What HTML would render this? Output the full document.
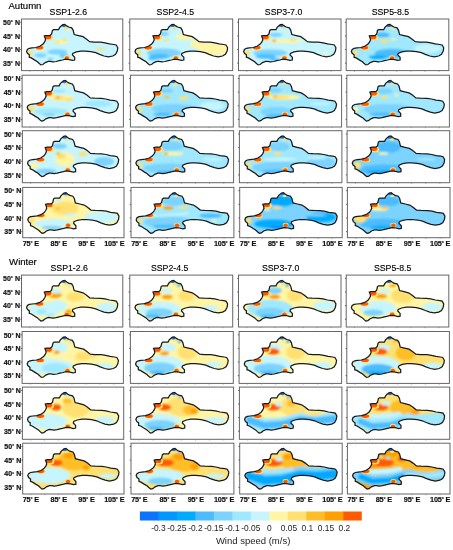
<!DOCTYPE html><html><head><meta charset="utf-8"><style>html,body{margin:0;padding:0;background:#fff;}svg{display:block}</style></head><body>
<svg width="453" height="550" viewBox="0 0 453 550" font-family='"Liberation Sans", Arial, sans-serif'>
<defs>
<clipPath id="cp0"><path d="M22.51,16.38 L24.38,15.99 L28.13,15.99 L29.71,14.53 L30.50,11.14 L31.59,10.37 L36.53,10.37 L37.71,8.14 L38.89,6.98 L40.77,5.52 L42.65,5.14 L44.62,6.69 L46.50,7.75 L49.56,8.53 L50.94,10.76 L52.02,15.02 L56.37,16.09 L60.71,17.15 L63.97,19.28 L67.32,22.00 L71.67,22.29 L78.18,22.48 L82.53,23.06 L86.87,24.13 L91.21,24.71 L93.48,25.19 L95.06,27.91 L94.57,31.10 L92.89,34.30 L90.13,35.85 L85.78,36.63 L81.44,35.85 L77.10,34.30 L73.25,32.66 L68.41,31.59 L62.88,31.10 L58.64,31.10 L54.10,31.88 L50.64,33.33 L50.25,34.79 L52.52,37.11 L52.52,39.73 L50.25,40.12 L47.19,39.34 L43.44,38.95 L40.38,39.73 L37.31,40.41 L34.25,41.18 L31.19,41.57 L28.13,41.18 L26.46,41.09 L23.40,42.25 L21.13,44.09 L19.15,44.48 L17.28,42.93 L15.79,41.47 L12.73,39.63 L9.67,37.69 L7.70,37.02 L7.70,34.69 L5.82,33.24 L5.03,31.40 L5.82,29.46 L7.70,28.39 L10.37,28.00 L14.22,27.62 L18.07,26.45 L21.22,24.32 L22.80,22.19 L23.69,20.25 L23.40,18.60Z"/></clipPath>
<path id="ol0" d="M22.51,16.38 L24.38,15.99 L28.13,15.99 L29.71,14.53 L30.50,11.14 L31.59,10.37 L36.53,10.37 L37.71,8.14 L38.89,6.98 L40.77,5.52 L42.65,5.14 L44.62,6.69 L46.50,7.75 L49.56,8.53 L50.94,10.76 L52.02,15.02 L56.37,16.09 L60.71,17.15 L63.97,19.28 L67.32,22.00 L71.67,22.29 L78.18,22.48 L82.53,23.06 L86.87,24.13 L91.21,24.71 L93.48,25.19 L95.06,27.91 L94.57,31.10 L92.89,34.30 L90.13,35.85 L85.78,36.63 L81.44,35.85 L77.10,34.30 L73.25,32.66 L68.41,31.59 L62.88,31.10 L58.64,31.10 L54.10,31.88 L50.64,33.33 L50.25,34.79 L52.52,37.11 L52.52,39.73 L50.25,40.12 L47.19,39.34 L43.44,38.95 L40.38,39.73 L37.31,40.41 L34.25,41.18 L31.19,41.57 L28.13,41.18 L26.46,41.09 L23.40,42.25 L21.13,44.09 L19.15,44.48 L17.28,42.93 L15.79,41.47 L12.73,39.63 L9.67,37.69 L7.70,37.02 L7.70,34.69 L5.82,33.24 L5.03,31.40 L5.82,29.46 L7.70,28.39 L10.37,28.00 L14.22,27.62 L18.07,26.45 L21.22,24.32 L22.80,22.19 L23.69,20.25 L23.40,18.60Z" fill="none" stroke="#1a1a1a" stroke-width="1.25" vector-effect="non-scaling-stroke"/>
<clipPath id="cp1"><path d="M22.51,16.31 L24.38,15.93 L28.13,15.93 L29.71,14.48 L30.50,11.10 L31.59,10.33 L36.53,10.33 L37.71,8.11 L38.89,6.95 L40.77,5.50 L42.65,5.12 L44.62,6.66 L46.50,7.72 L49.56,8.49 L50.94,10.71 L52.02,14.96 L56.37,16.02 L60.71,17.08 L63.97,19.21 L67.32,21.91 L71.67,22.20 L78.18,22.39 L82.53,22.97 L86.87,24.03 L91.21,24.61 L93.48,25.10 L95.06,27.80 L94.57,30.98 L92.89,34.17 L90.13,35.71 L85.78,36.49 L81.44,35.71 L77.10,34.17 L73.25,32.53 L68.41,31.47 L62.88,30.98 L58.64,30.98 L54.10,31.76 L50.64,33.20 L50.25,34.65 L52.52,36.97 L52.52,39.58 L50.25,39.96 L47.19,39.19 L43.44,38.80 L40.38,39.58 L37.31,40.25 L34.25,41.02 L31.19,41.41 L28.13,41.02 L26.46,40.93 L23.40,42.08 L21.13,43.92 L19.15,44.31 L17.28,42.76 L15.79,41.31 L12.73,39.48 L9.67,37.55 L7.70,36.87 L7.70,34.56 L5.82,33.11 L5.03,31.27 L5.82,29.34 L7.70,28.28 L10.37,27.90 L14.22,27.51 L18.07,26.35 L21.22,24.23 L22.80,22.10 L23.69,20.17 L23.40,18.53Z"/></clipPath>
<path id="ol1" d="M22.51,16.31 L24.38,15.93 L28.13,15.93 L29.71,14.48 L30.50,11.10 L31.59,10.33 L36.53,10.33 L37.71,8.11 L38.89,6.95 L40.77,5.50 L42.65,5.12 L44.62,6.66 L46.50,7.72 L49.56,8.49 L50.94,10.71 L52.02,14.96 L56.37,16.02 L60.71,17.08 L63.97,19.21 L67.32,21.91 L71.67,22.20 L78.18,22.39 L82.53,22.97 L86.87,24.03 L91.21,24.61 L93.48,25.10 L95.06,27.80 L94.57,30.98 L92.89,34.17 L90.13,35.71 L85.78,36.49 L81.44,35.71 L77.10,34.17 L73.25,32.53 L68.41,31.47 L62.88,30.98 L58.64,30.98 L54.10,31.76 L50.64,33.20 L50.25,34.65 L52.52,36.97 L52.52,39.58 L50.25,39.96 L47.19,39.19 L43.44,38.80 L40.38,39.58 L37.31,40.25 L34.25,41.02 L31.19,41.41 L28.13,41.02 L26.46,40.93 L23.40,42.08 L21.13,43.92 L19.15,44.31 L17.28,42.76 L15.79,41.31 L12.73,39.48 L9.67,37.55 L7.70,36.87 L7.70,34.56 L5.82,33.11 L5.03,31.27 L5.82,29.34 L7.70,28.28 L10.37,27.90 L14.22,27.51 L18.07,26.35 L21.22,24.23 L22.80,22.10 L23.69,20.17 L23.40,18.53Z" fill="none" stroke="#1a1a1a" stroke-width="1.25" vector-effect="non-scaling-stroke"/>
<clipPath id="cp2"><path d="M22.51,16.25 L24.38,15.87 L28.13,15.87 L29.71,14.42 L30.50,11.06 L31.59,10.29 L36.53,10.29 L37.71,8.08 L38.89,6.92 L40.77,5.48 L42.65,5.10 L44.62,6.63 L46.50,7.69 L49.56,8.46 L50.94,10.67 L52.02,14.90 L56.37,15.96 L60.71,17.02 L63.97,19.13 L67.32,21.83 L71.67,22.12 L78.18,22.31 L82.53,22.88 L86.87,23.94 L91.21,24.52 L93.48,25.00 L95.06,27.69 L94.57,30.87 L92.89,34.04 L90.13,35.58 L85.78,36.35 L81.44,35.58 L77.10,34.04 L73.25,32.40 L68.41,31.35 L62.88,30.87 L58.64,30.87 L54.10,31.63 L50.64,33.08 L50.25,34.52 L52.52,36.83 L52.52,39.42 L50.25,39.81 L47.19,39.04 L43.44,38.65 L40.38,39.42 L37.31,40.10 L34.25,40.87 L31.19,41.25 L28.13,40.87 L26.46,40.77 L23.40,41.92 L21.13,43.75 L19.15,44.13 L17.28,42.60 L15.79,41.15 L12.73,39.33 L9.67,37.40 L7.70,36.73 L7.70,34.42 L5.82,32.98 L5.03,31.15 L5.82,29.23 L7.70,28.17 L10.37,27.79 L14.22,27.40 L18.07,26.25 L21.22,24.13 L22.80,22.02 L23.69,20.10 L23.40,18.46Z"/></clipPath>
<path id="ol2" d="M22.51,16.25 L24.38,15.87 L28.13,15.87 L29.71,14.42 L30.50,11.06 L31.59,10.29 L36.53,10.29 L37.71,8.08 L38.89,6.92 L40.77,5.48 L42.65,5.10 L44.62,6.63 L46.50,7.69 L49.56,8.46 L50.94,10.67 L52.02,14.90 L56.37,15.96 L60.71,17.02 L63.97,19.13 L67.32,21.83 L71.67,22.12 L78.18,22.31 L82.53,22.88 L86.87,23.94 L91.21,24.52 L93.48,25.00 L95.06,27.69 L94.57,30.87 L92.89,34.04 L90.13,35.58 L85.78,36.35 L81.44,35.58 L77.10,34.04 L73.25,32.40 L68.41,31.35 L62.88,30.87 L58.64,30.87 L54.10,31.63 L50.64,33.08 L50.25,34.52 L52.52,36.83 L52.52,39.42 L50.25,39.81 L47.19,39.04 L43.44,38.65 L40.38,39.42 L37.31,40.10 L34.25,40.87 L31.19,41.25 L28.13,40.87 L26.46,40.77 L23.40,41.92 L21.13,43.75 L19.15,44.13 L17.28,42.60 L15.79,41.15 L12.73,39.33 L9.67,37.40 L7.70,36.73 L7.70,34.42 L5.82,32.98 L5.03,31.15 L5.82,29.23 L7.70,28.17 L10.37,27.79 L14.22,27.40 L18.07,26.25 L21.22,24.13 L22.80,22.02 L23.69,20.10 L23.40,18.46Z" fill="none" stroke="#1a1a1a" stroke-width="1.25" vector-effect="non-scaling-stroke"/>
<clipPath id="cp3"><path d="M22.51,16.80 L24.38,16.40 L28.13,16.40 L29.71,14.91 L30.50,11.43 L31.59,10.64 L36.53,10.64 L37.71,8.35 L38.89,7.16 L40.77,5.67 L42.65,5.27 L44.62,6.86 L46.50,7.95 L49.56,8.75 L50.94,11.03 L52.02,15.41 L56.37,16.50 L60.71,17.59 L63.97,19.78 L67.32,22.56 L71.67,22.86 L78.18,23.06 L82.53,23.66 L86.87,24.75 L91.21,25.35 L93.48,25.84 L95.06,28.63 L94.57,31.91 L92.89,35.19 L90.13,36.78 L85.78,37.57 L81.44,36.78 L77.10,35.19 L73.25,33.50 L68.41,32.41 L62.88,31.91 L58.64,31.91 L54.10,32.70 L50.64,34.19 L50.25,35.69 L52.52,38.07 L52.52,40.76 L50.25,41.15 L47.19,40.36 L43.44,39.96 L40.38,40.76 L37.31,41.45 L34.25,42.25 L31.19,42.64 L28.13,42.25 L26.46,42.15 L23.40,43.34 L21.13,45.23 L19.15,45.63 L17.28,44.04 L15.79,42.54 L12.73,40.66 L9.67,38.67 L7.70,37.97 L7.70,35.59 L5.82,34.10 L5.03,32.21 L5.82,30.22 L7.70,29.13 L10.37,28.73 L14.22,28.33 L18.07,27.14 L21.22,24.95 L22.80,22.76 L23.69,20.78 L23.40,19.09Z"/></clipPath>
<path id="ol3" d="M22.51,16.80 L24.38,16.40 L28.13,16.40 L29.71,14.91 L30.50,11.43 L31.59,10.64 L36.53,10.64 L37.71,8.35 L38.89,7.16 L40.77,5.67 L42.65,5.27 L44.62,6.86 L46.50,7.95 L49.56,8.75 L50.94,11.03 L52.02,15.41 L56.37,16.50 L60.71,17.59 L63.97,19.78 L67.32,22.56 L71.67,22.86 L78.18,23.06 L82.53,23.66 L86.87,24.75 L91.21,25.35 L93.48,25.84 L95.06,28.63 L94.57,31.91 L92.89,35.19 L90.13,36.78 L85.78,37.57 L81.44,36.78 L77.10,35.19 L73.25,33.50 L68.41,32.41 L62.88,31.91 L58.64,31.91 L54.10,32.70 L50.64,34.19 L50.25,35.69 L52.52,38.07 L52.52,40.76 L50.25,41.15 L47.19,40.36 L43.44,39.96 L40.38,40.76 L37.31,41.45 L34.25,42.25 L31.19,42.64 L28.13,42.25 L26.46,42.15 L23.40,43.34 L21.13,45.23 L19.15,45.63 L17.28,44.04 L15.79,42.54 L12.73,40.66 L9.67,38.67 L7.70,37.97 L7.70,35.59 L5.82,34.10 L5.03,32.21 L5.82,30.22 L7.70,29.13 L10.37,28.73 L14.22,28.33 L18.07,27.14 L21.22,24.95 L22.80,22.76 L23.69,20.78 L23.40,19.09Z" fill="none" stroke="#1a1a1a" stroke-width="1.25" vector-effect="non-scaling-stroke"/>
<clipPath id="cp4"><path d="M22.51,16.28 L24.38,15.90 L28.13,15.90 L29.71,14.45 L30.50,11.08 L31.59,10.31 L36.53,10.31 L37.71,8.09 L38.89,6.94 L40.77,5.49 L42.65,5.11 L44.62,6.65 L46.50,7.71 L49.56,8.48 L50.94,10.69 L52.02,14.93 L56.37,15.99 L60.71,17.05 L63.97,19.17 L67.32,21.87 L71.67,22.16 L78.18,22.35 L82.53,22.93 L86.87,23.99 L91.21,24.57 L93.48,25.05 L95.06,27.75 L94.57,30.92 L92.89,34.10 L90.13,35.65 L85.78,36.42 L81.44,35.65 L77.10,34.10 L73.25,32.47 L68.41,31.41 L62.88,30.92 L58.64,30.92 L54.10,31.70 L50.64,33.14 L50.25,34.59 L52.52,36.90 L52.52,39.50 L50.25,39.88 L47.19,39.11 L43.44,38.73 L40.38,39.50 L37.31,40.17 L34.25,40.94 L31.19,41.33 L28.13,40.94 L26.46,40.85 L23.40,42.00 L21.13,43.83 L19.15,44.22 L17.28,42.68 L15.79,41.23 L12.73,39.40 L9.67,37.48 L7.70,36.80 L7.70,34.49 L5.82,33.04 L5.03,31.21 L5.82,29.29 L7.70,28.23 L10.37,27.84 L14.22,27.46 L18.07,26.30 L21.22,24.18 L22.80,22.06 L23.69,20.13 L23.40,18.50Z"/></clipPath>
<path id="ol4" d="M22.51,16.28 L24.38,15.90 L28.13,15.90 L29.71,14.45 L30.50,11.08 L31.59,10.31 L36.53,10.31 L37.71,8.09 L38.89,6.94 L40.77,5.49 L42.65,5.11 L44.62,6.65 L46.50,7.71 L49.56,8.48 L50.94,10.69 L52.02,14.93 L56.37,15.99 L60.71,17.05 L63.97,19.17 L67.32,21.87 L71.67,22.16 L78.18,22.35 L82.53,22.93 L86.87,23.99 L91.21,24.57 L93.48,25.05 L95.06,27.75 L94.57,30.92 L92.89,34.10 L90.13,35.65 L85.78,36.42 L81.44,35.65 L77.10,34.10 L73.25,32.47 L68.41,31.41 L62.88,30.92 L58.64,30.92 L54.10,31.70 L50.64,33.14 L50.25,34.59 L52.52,36.90 L52.52,39.50 L50.25,39.88 L47.19,39.11 L43.44,38.73 L40.38,39.50 L37.31,40.17 L34.25,40.94 L31.19,41.33 L28.13,40.94 L26.46,40.85 L23.40,42.00 L21.13,43.83 L19.15,44.22 L17.28,42.68 L15.79,41.23 L12.73,39.40 L9.67,37.48 L7.70,36.80 L7.70,34.49 L5.82,33.04 L5.03,31.21 L5.82,29.29 L7.70,28.23 L10.37,27.84 L14.22,27.46 L18.07,26.30 L21.22,24.18 L22.80,22.06 L23.69,20.13 L23.40,18.50Z" fill="none" stroke="#1a1a1a" stroke-width="1.25" vector-effect="non-scaling-stroke"/>
<clipPath id="cp5"><path d="M22.51,16.28 L24.38,15.90 L28.13,15.90 L29.71,14.45 L30.50,11.08 L31.59,10.31 L36.53,10.31 L37.71,8.09 L38.89,6.94 L40.77,5.49 L42.65,5.11 L44.62,6.65 L46.50,7.71 L49.56,8.48 L50.94,10.69 L52.02,14.93 L56.37,15.99 L60.71,17.05 L63.97,19.17 L67.32,21.87 L71.67,22.16 L78.18,22.35 L82.53,22.93 L86.87,23.99 L91.21,24.57 L93.48,25.05 L95.06,27.75 L94.57,30.92 L92.89,34.10 L90.13,35.65 L85.78,36.42 L81.44,35.65 L77.10,34.10 L73.25,32.47 L68.41,31.41 L62.88,30.92 L58.64,30.92 L54.10,31.70 L50.64,33.14 L50.25,34.59 L52.52,36.90 L52.52,39.50 L50.25,39.88 L47.19,39.11 L43.44,38.73 L40.38,39.50 L37.31,40.17 L34.25,40.94 L31.19,41.33 L28.13,40.94 L26.46,40.85 L23.40,42.00 L21.13,43.83 L19.15,44.22 L17.28,42.68 L15.79,41.23 L12.73,39.40 L9.67,37.48 L7.70,36.80 L7.70,34.49 L5.82,33.04 L5.03,31.21 L5.82,29.29 L7.70,28.23 L10.37,27.84 L14.22,27.46 L18.07,26.30 L21.22,24.18 L22.80,22.06 L23.69,20.13 L23.40,18.50Z"/></clipPath>
<path id="ol5" d="M22.51,16.28 L24.38,15.90 L28.13,15.90 L29.71,14.45 L30.50,11.08 L31.59,10.31 L36.53,10.31 L37.71,8.09 L38.89,6.94 L40.77,5.49 L42.65,5.11 L44.62,6.65 L46.50,7.71 L49.56,8.48 L50.94,10.69 L52.02,14.93 L56.37,15.99 L60.71,17.05 L63.97,19.17 L67.32,21.87 L71.67,22.16 L78.18,22.35 L82.53,22.93 L86.87,23.99 L91.21,24.57 L93.48,25.05 L95.06,27.75 L94.57,30.92 L92.89,34.10 L90.13,35.65 L85.78,36.42 L81.44,35.65 L77.10,34.10 L73.25,32.47 L68.41,31.41 L62.88,30.92 L58.64,30.92 L54.10,31.70 L50.64,33.14 L50.25,34.59 L52.52,36.90 L52.52,39.50 L50.25,39.88 L47.19,39.11 L43.44,38.73 L40.38,39.50 L37.31,40.17 L34.25,40.94 L31.19,41.33 L28.13,40.94 L26.46,40.85 L23.40,42.00 L21.13,43.83 L19.15,44.22 L17.28,42.68 L15.79,41.23 L12.73,39.40 L9.67,37.48 L7.70,36.80 L7.70,34.49 L5.82,33.04 L5.03,31.21 L5.82,29.29 L7.70,28.23 L10.37,27.84 L14.22,27.46 L18.07,26.30 L21.22,24.18 L22.80,22.06 L23.69,20.13 L23.40,18.50Z" fill="none" stroke="#1a1a1a" stroke-width="1.25" vector-effect="non-scaling-stroke"/>
<clipPath id="cp6"><path d="M22.51,16.19 L24.38,15.80 L28.13,15.80 L29.71,14.37 L30.50,11.02 L31.59,10.25 L36.53,10.25 L37.71,8.05 L38.89,6.90 L40.77,5.46 L42.65,5.08 L44.62,6.61 L46.50,7.66 L49.56,8.43 L50.94,10.63 L52.02,14.85 L56.37,15.90 L60.71,16.95 L63.97,19.06 L67.32,21.74 L71.67,22.03 L78.18,22.22 L82.53,22.80 L86.87,23.85 L91.21,24.43 L93.48,24.90 L95.06,27.59 L94.57,30.75 L92.89,33.91 L90.13,35.44 L85.78,36.21 L81.44,35.44 L77.10,33.91 L73.25,32.28 L68.41,31.23 L62.88,30.75 L58.64,30.75 L54.10,31.51 L50.64,32.95 L50.25,34.39 L52.52,36.69 L52.52,39.27 L50.25,39.66 L47.19,38.89 L43.44,38.51 L40.38,39.27 L37.31,39.94 L34.25,40.71 L31.19,41.09 L28.13,40.71 L26.46,40.61 L23.40,41.76 L21.13,43.58 L19.15,43.97 L17.28,42.43 L15.79,41.00 L12.73,39.18 L9.67,37.26 L7.70,36.59 L7.70,34.29 L5.82,32.85 L5.03,31.03 L5.82,29.12 L7.70,28.07 L10.37,27.68 L14.22,27.30 L18.07,26.15 L21.22,24.04 L22.80,21.93 L23.69,20.02 L23.40,18.39Z"/></clipPath>
<path id="ol6" d="M22.51,16.19 L24.38,15.80 L28.13,15.80 L29.71,14.37 L30.50,11.02 L31.59,10.25 L36.53,10.25 L37.71,8.05 L38.89,6.90 L40.77,5.46 L42.65,5.08 L44.62,6.61 L46.50,7.66 L49.56,8.43 L50.94,10.63 L52.02,14.85 L56.37,15.90 L60.71,16.95 L63.97,19.06 L67.32,21.74 L71.67,22.03 L78.18,22.22 L82.53,22.80 L86.87,23.85 L91.21,24.43 L93.48,24.90 L95.06,27.59 L94.57,30.75 L92.89,33.91 L90.13,35.44 L85.78,36.21 L81.44,35.44 L77.10,33.91 L73.25,32.28 L68.41,31.23 L62.88,30.75 L58.64,30.75 L54.10,31.51 L50.64,32.95 L50.25,34.39 L52.52,36.69 L52.52,39.27 L50.25,39.66 L47.19,38.89 L43.44,38.51 L40.38,39.27 L37.31,39.94 L34.25,40.71 L31.19,41.09 L28.13,40.71 L26.46,40.61 L23.40,41.76 L21.13,43.58 L19.15,43.97 L17.28,42.43 L15.79,41.00 L12.73,39.18 L9.67,37.26 L7.70,36.59 L7.70,34.29 L5.82,32.85 L5.03,31.03 L5.82,29.12 L7.70,28.07 L10.37,27.68 L14.22,27.30 L18.07,26.15 L21.22,24.04 L22.80,21.93 L23.69,20.02 L23.40,18.39Z" fill="none" stroke="#1a1a1a" stroke-width="1.25" vector-effect="non-scaling-stroke"/>
<clipPath id="cp7"><path d="M22.51,16.63 L24.38,16.24 L28.13,16.24 L29.71,14.76 L30.50,11.32 L31.59,10.53 L36.53,10.53 L37.71,8.27 L38.89,7.09 L40.77,5.61 L42.65,5.22 L44.62,6.79 L46.50,7.87 L49.56,8.66 L50.94,10.93 L52.02,15.26 L56.37,16.34 L60.71,17.42 L63.97,19.59 L67.32,22.34 L71.67,22.64 L78.18,22.83 L82.53,23.43 L86.87,24.51 L91.21,25.10 L93.48,25.59 L95.06,28.35 L94.57,31.59 L92.89,34.84 L90.13,36.42 L85.78,37.20 L81.44,36.42 L77.10,34.84 L73.25,33.17 L68.41,32.09 L62.88,31.59 L58.64,31.59 L54.10,32.38 L50.64,33.86 L50.25,35.33 L52.52,37.70 L52.52,40.35 L50.25,40.75 L47.19,39.96 L43.44,39.57 L40.38,40.35 L37.31,41.04 L34.25,41.83 L31.19,42.22 L28.13,41.83 L26.46,41.73 L23.40,42.91 L21.13,44.78 L19.15,45.18 L17.28,43.60 L15.79,42.13 L12.73,40.26 L9.67,38.29 L7.70,37.60 L7.70,35.24 L5.82,33.76 L5.03,31.89 L5.82,29.92 L7.70,28.84 L10.37,28.44 L14.22,28.05 L18.07,26.87 L21.22,24.70 L22.80,22.54 L23.69,20.57 L23.40,18.90Z"/></clipPath>
<path id="ol7" d="M22.51,16.63 L24.38,16.24 L28.13,16.24 L29.71,14.76 L30.50,11.32 L31.59,10.53 L36.53,10.53 L37.71,8.27 L38.89,7.09 L40.77,5.61 L42.65,5.22 L44.62,6.79 L46.50,7.87 L49.56,8.66 L50.94,10.93 L52.02,15.26 L56.37,16.34 L60.71,17.42 L63.97,19.59 L67.32,22.34 L71.67,22.64 L78.18,22.83 L82.53,23.43 L86.87,24.51 L91.21,25.10 L93.48,25.59 L95.06,28.35 L94.57,31.59 L92.89,34.84 L90.13,36.42 L85.78,37.20 L81.44,36.42 L77.10,34.84 L73.25,33.17 L68.41,32.09 L62.88,31.59 L58.64,31.59 L54.10,32.38 L50.64,33.86 L50.25,35.33 L52.52,37.70 L52.52,40.35 L50.25,40.75 L47.19,39.96 L43.44,39.57 L40.38,40.35 L37.31,41.04 L34.25,41.83 L31.19,42.22 L28.13,41.83 L26.46,41.73 L23.40,42.91 L21.13,44.78 L19.15,45.18 L17.28,43.60 L15.79,42.13 L12.73,40.26 L9.67,38.29 L7.70,37.60 L7.70,35.24 L5.82,33.76 L5.03,31.89 L5.82,29.92 L7.70,28.84 L10.37,28.44 L14.22,28.05 L18.07,26.87 L21.22,24.70 L22.80,22.54 L23.69,20.57 L23.40,18.90Z" fill="none" stroke="#1a1a1a" stroke-width="1.25" vector-effect="non-scaling-stroke"/>
<filter id="bl" x="-50%" y="-50%" width="200%" height="200%"><feGaussianBlur stdDeviation="0.8"/></filter><filter id="bl2" x="-50%" y="-50%" width="200%" height="200%"><feGaussianBlur stdDeviation="0.6"/></filter>
</defs>
<rect width="453" height="550" fill="#fff"/>
<text x="8.4" y="8.7" font-size="9.6" stroke="#000" stroke-width="0.15">Autumn</text>
<text x="9.1" y="265" font-size="9.6" stroke="#000" stroke-width="0.15">Winter</text>
<text x="49.6" y="14.7" font-size="8.75" stroke="#000" stroke-width="0.12">SSP1-2.6</text>
<text x="156.6" y="14.7" font-size="8.75" stroke="#000" stroke-width="0.12">SSP2-4.5</text>
<text x="264.8" y="14.7" font-size="8.75" stroke="#000" stroke-width="0.12">SSP3-7.0</text>
<text x="371.7" y="14.7" font-size="8.75" stroke="#000" stroke-width="0.12">SSP5-8.5</text>
<text x="50.5" y="270.8" font-size="8.75" stroke="#000" stroke-width="0.12">SSP1-2.6</text>
<text x="150.9" y="270.8" font-size="8.75" stroke="#000" stroke-width="0.12">SSP2-4.5</text>
<text x="261.9" y="270.8" font-size="8.75" stroke="#000" stroke-width="0.12">SSP3-7.0</text>
<text x="373.9" y="270.8" font-size="8.75" stroke="#000" stroke-width="0.12">SSP5-8.5</text>
<g transform="translate(21.50,19.00) scale(1.0130,1.0320)"><g clip-path="url(#cp0)"><rect x="-2" y="-2" width="104" height="54" fill="#c6f5ff"/><g filter="url(#bl)"><ellipse cx="38.6" cy="22.0" rx="7.1" ry="2.2" fill="#fff5a5"/><ellipse cx="35.3" cy="22.4" rx="2.6" ry="1.3" fill="#ffe070"/><ellipse cx="42.4" cy="20.2" rx="2.6" ry="1.3" fill="#ffe070"/><ellipse cx="45.7" cy="10.3" rx="1.8" ry="1.3" fill="#fff5a5"/><ellipse cx="77.7" cy="29.0" rx="4.9" ry="1.1" fill="#ffe070"/><ellipse cx="8.8" cy="33.0" rx="2.2" ry="3.1" fill="#ffe070"/><ellipse cx="35.3" cy="31.9" rx="9.9" ry="2.6" fill="#7cd3ff"/><ellipse cx="18.8" cy="35.2" rx="6.2" ry="2.0" fill="#7cd3ff"/><ellipse cx="41.9" cy="35.6" rx="4.4" ry="2.2" fill="#7cd3ff"/><ellipse cx="28.7" cy="39.1" rx="2.6" ry="1.1" fill="#4cbcff"/><ellipse cx="40.2" cy="35.2" rx="1.3" ry="0.9" fill="#4cbcff"/><ellipse cx="44.2" cy="8.4" rx="1.1" ry="0.7" fill="#ffa000"/></g><g filter="url(#bl2)"><ellipse cx="26.9" cy="18.0" rx="4.4" ry="2.9" fill="#ffe070"/><ellipse cx="18.1" cy="28.1" rx="4.4" ry="2.2" fill="#ffe070"/><ellipse cx="44.8" cy="37.4" rx="2.9" ry="2.2" fill="#ffe070"/><ellipse cx="26.0" cy="17.4" rx="3.5" ry="2.2" fill="#ff5a00"/><ellipse cx="17.7" cy="27.7" rx="3.8" ry="1.8" fill="#ff5a00"/><ellipse cx="44.8" cy="37.8" rx="2.2" ry="1.8" fill="#ff5a00"/><ellipse cx="43.7" cy="8.4" rx="2.2" ry="1.3" fill="#ffe070"/><ellipse cx="41.7" cy="6.2" rx="2.2" ry="1.5" fill="#0a73ff"/></g></g><use href="#ol0"/></g><rect x="21.50" y="19.00" width="101.30" height="51.60" fill="none" stroke="#666" stroke-width="1"/>
<g transform="translate(129.80,19.00) scale(1.0290,1.0320)"><g clip-path="url(#cp0)"><rect x="-2" y="-2" width="104" height="54" fill="#c6f5ff"/><g filter="url(#bl)"><ellipse cx="54.1" cy="17.1" rx="9.9" ry="3.1" fill="#fff5a5"/><ellipse cx="81.7" cy="29.0" rx="15.5" ry="6.6" fill="#fff5a5"/><ellipse cx="66.2" cy="24.2" rx="7.7" ry="4.0" fill="#fff5a5"/><ellipse cx="33.1" cy="33.0" rx="16.6" ry="4.4" fill="#7cd3ff"/><ellipse cx="28.7" cy="36.3" rx="9.9" ry="2.6" fill="#4cbcff"/><ellipse cx="22.1" cy="38.5" rx="4.4" ry="1.3" fill="#4cbcff"/><ellipse cx="35.3" cy="20.4" rx="2.6" ry="1.5" fill="#ffe070"/><ellipse cx="8.8" cy="33.0" rx="2.2" ry="3.1" fill="#ffe070"/><ellipse cx="33.1" cy="14.3" rx="4.9" ry="2.0" fill="#7cd3ff"/><ellipse cx="44.2" cy="8.4" rx="1.1" ry="0.7" fill="#ffa000"/></g><g filter="url(#bl2)"><ellipse cx="26.9" cy="18.0" rx="4.4" ry="2.9" fill="#ffe070"/><ellipse cx="18.1" cy="28.1" rx="4.4" ry="2.2" fill="#ffe070"/><ellipse cx="44.8" cy="37.4" rx="2.9" ry="2.2" fill="#ffe070"/><ellipse cx="26.0" cy="17.4" rx="3.5" ry="2.2" fill="#ff5a00"/><ellipse cx="17.7" cy="27.7" rx="3.8" ry="1.8" fill="#ff5a00"/><ellipse cx="44.8" cy="37.8" rx="2.2" ry="1.8" fill="#ff5a00"/><ellipse cx="43.7" cy="8.4" rx="2.2" ry="1.3" fill="#ffe070"/><ellipse cx="41.7" cy="6.2" rx="2.2" ry="1.5" fill="#0a73ff"/></g></g><use href="#ol0"/></g><rect x="129.80" y="19.00" width="102.90" height="51.60" fill="none" stroke="#666" stroke-width="1"/>
<g transform="translate(238.50,19.00) scale(1.0250,1.0320)"><g clip-path="url(#cp0)"><rect x="-2" y="-2" width="104" height="54" fill="#c6f5ff"/><g filter="url(#bl)"><ellipse cx="46.4" cy="21.3" rx="16.6" ry="2.0" fill="#fff5a5"/><ellipse cx="34.9" cy="21.1" rx="2.0" ry="1.3" fill="#ffa000"/><ellipse cx="53.0" cy="20.2" rx="4.0" ry="1.1" fill="#ffe070"/><ellipse cx="30.9" cy="33.0" rx="16.6" ry="3.5" fill="#7cd3ff"/><ellipse cx="26.5" cy="36.3" rx="9.9" ry="2.2" fill="#4cbcff"/><ellipse cx="35.3" cy="39.1" rx="5.5" ry="1.3" fill="#4cbcff"/><ellipse cx="36.4" cy="15.4" rx="6.6" ry="2.0" fill="#7cd3ff"/><ellipse cx="8.8" cy="33.0" rx="2.2" ry="3.1" fill="#ffe070"/><ellipse cx="83.9" cy="33.0" rx="2.6" ry="1.1" fill="#fff5a5"/></g><g filter="url(#bl2)"><ellipse cx="26.9" cy="18.0" rx="4.4" ry="2.9" fill="#ffe070"/><ellipse cx="18.1" cy="28.1" rx="4.4" ry="2.2" fill="#ffe070"/><ellipse cx="44.8" cy="37.4" rx="2.9" ry="2.2" fill="#ffe070"/><ellipse cx="26.0" cy="17.4" rx="3.5" ry="2.2" fill="#ff5a00"/><ellipse cx="17.7" cy="27.7" rx="3.8" ry="1.8" fill="#ff5a00"/><ellipse cx="44.8" cy="37.8" rx="2.2" ry="1.8" fill="#ff5a00"/><ellipse cx="43.7" cy="8.4" rx="2.2" ry="1.3" fill="#ffe070"/><ellipse cx="41.7" cy="6.2" rx="2.2" ry="1.5" fill="#0a73ff"/></g></g><use href="#ol0"/></g><rect x="238.50" y="19.00" width="102.50" height="51.60" fill="none" stroke="#666" stroke-width="1"/>
<g transform="translate(346.20,19.00) scale(1.0260,1.0320)"><g clip-path="url(#cp0)"><rect x="-2" y="-2" width="104" height="54" fill="#a0e8ff"/><g filter="url(#bl)"><ellipse cx="44.2" cy="33.4" rx="16.6" ry="4.4" fill="#4cbcff"/><ellipse cx="30.9" cy="36.9" rx="8.8" ry="1.8" fill="#00abff"/><ellipse cx="35.3" cy="15.4" rx="7.1" ry="2.4" fill="#4cbcff"/><ellipse cx="37.1" cy="21.1" rx="4.4" ry="1.8" fill="#ffe070"/><ellipse cx="46.4" cy="19.8" rx="2.6" ry="1.1" fill="#fff5a5"/><ellipse cx="79.5" cy="28.6" rx="13.2" ry="4.4" fill="#c6f5ff"/><ellipse cx="8.8" cy="33.0" rx="2.2" ry="3.1" fill="#ffe070"/><ellipse cx="45.3" cy="9.2" rx="1.8" ry="1.1" fill="#fff5a5"/></g><g filter="url(#bl2)"><ellipse cx="26.9" cy="18.0" rx="4.4" ry="2.9" fill="#ffe070"/><ellipse cx="18.1" cy="28.1" rx="4.4" ry="2.2" fill="#ffe070"/><ellipse cx="44.8" cy="37.4" rx="2.9" ry="2.2" fill="#ffe070"/><ellipse cx="26.0" cy="17.4" rx="3.5" ry="2.2" fill="#ff5a00"/><ellipse cx="17.7" cy="27.7" rx="3.8" ry="1.8" fill="#ff5a00"/><ellipse cx="44.8" cy="37.8" rx="2.2" ry="1.8" fill="#ff5a00"/><ellipse cx="43.7" cy="8.4" rx="2.2" ry="1.3" fill="#ffe070"/><ellipse cx="41.7" cy="6.2" rx="2.2" ry="1.5" fill="#0a73ff"/></g></g><use href="#ol0"/></g><rect x="346.20" y="19.00" width="102.60" height="51.60" fill="none" stroke="#666" stroke-width="1"/>
<text x="20.00" y="25.00" font-size="7.0" font-weight="bold" text-anchor="end" fill="#111" stroke="#111" stroke-width="0.18">50<tspan font-size="5.4" dy="-0.9">°</tspan><tspan dy="0.9"> N</tspan></text>
<line x1="20.20" y1="22.30" x2="21.50" y2="22.30" stroke="#444" stroke-width="0.8"/>
<line x1="128.50" y1="22.30" x2="129.80" y2="22.30" stroke="#444" stroke-width="0.8"/>
<line x1="237.20" y1="22.30" x2="238.50" y2="22.30" stroke="#444" stroke-width="0.8"/>
<line x1="344.90" y1="22.30" x2="346.20" y2="22.30" stroke="#444" stroke-width="0.8"/>
<text x="20.00" y="38.62" font-size="7.0" font-weight="bold" text-anchor="end" fill="#111" stroke="#111" stroke-width="0.18">45<tspan font-size="5.4" dy="-0.9">°</tspan><tspan dy="0.9"> N</tspan></text>
<line x1="20.20" y1="35.92" x2="21.50" y2="35.92" stroke="#444" stroke-width="0.8"/>
<line x1="128.50" y1="35.92" x2="129.80" y2="35.92" stroke="#444" stroke-width="0.8"/>
<line x1="237.20" y1="35.92" x2="238.50" y2="35.92" stroke="#444" stroke-width="0.8"/>
<line x1="344.90" y1="35.92" x2="346.20" y2="35.92" stroke="#444" stroke-width="0.8"/>
<text x="20.00" y="52.25" font-size="7.0" font-weight="bold" text-anchor="end" fill="#111" stroke="#111" stroke-width="0.18">40<tspan font-size="5.4" dy="-0.9">°</tspan><tspan dy="0.9"> N</tspan></text>
<line x1="20.20" y1="49.55" x2="21.50" y2="49.55" stroke="#444" stroke-width="0.8"/>
<line x1="128.50" y1="49.55" x2="129.80" y2="49.55" stroke="#444" stroke-width="0.8"/>
<line x1="237.20" y1="49.55" x2="238.50" y2="49.55" stroke="#444" stroke-width="0.8"/>
<line x1="344.90" y1="49.55" x2="346.20" y2="49.55" stroke="#444" stroke-width="0.8"/>
<text x="20.00" y="65.88" font-size="7.0" font-weight="bold" text-anchor="end" fill="#111" stroke="#111" stroke-width="0.18">35<tspan font-size="5.4" dy="-0.9">°</tspan><tspan dy="0.9"> N</tspan></text>
<line x1="20.20" y1="63.17" x2="21.50" y2="63.17" stroke="#444" stroke-width="0.8"/>
<line x1="128.50" y1="63.17" x2="129.80" y2="63.17" stroke="#444" stroke-width="0.8"/>
<line x1="237.20" y1="63.17" x2="238.50" y2="63.17" stroke="#444" stroke-width="0.8"/>
<line x1="344.90" y1="63.17" x2="346.20" y2="63.17" stroke="#444" stroke-width="0.8"/>
<line x1="29.70" y1="70.60" x2="29.70" y2="71.80" stroke="#777" stroke-width="0.6"/>
<line x1="43.59" y1="70.60" x2="43.59" y2="71.80" stroke="#777" stroke-width="0.6"/>
<line x1="57.49" y1="70.60" x2="57.49" y2="71.80" stroke="#777" stroke-width="0.6"/>
<line x1="71.39" y1="70.60" x2="71.39" y2="71.80" stroke="#777" stroke-width="0.6"/>
<line x1="85.28" y1="70.60" x2="85.28" y2="71.80" stroke="#777" stroke-width="0.6"/>
<line x1="99.18" y1="70.60" x2="99.18" y2="71.80" stroke="#777" stroke-width="0.6"/>
<line x1="113.07" y1="70.60" x2="113.07" y2="71.80" stroke="#777" stroke-width="0.6"/>
<line x1="138.13" y1="70.60" x2="138.13" y2="71.80" stroke="#777" stroke-width="0.6"/>
<line x1="152.24" y1="70.60" x2="152.24" y2="71.80" stroke="#777" stroke-width="0.6"/>
<line x1="166.36" y1="70.60" x2="166.36" y2="71.80" stroke="#777" stroke-width="0.6"/>
<line x1="180.47" y1="70.60" x2="180.47" y2="71.80" stroke="#777" stroke-width="0.6"/>
<line x1="194.59" y1="70.60" x2="194.59" y2="71.80" stroke="#777" stroke-width="0.6"/>
<line x1="208.70" y1="70.60" x2="208.70" y2="71.80" stroke="#777" stroke-width="0.6"/>
<line x1="222.82" y1="70.60" x2="222.82" y2="71.80" stroke="#777" stroke-width="0.6"/>
<line x1="246.80" y1="70.60" x2="246.80" y2="71.80" stroke="#777" stroke-width="0.6"/>
<line x1="260.86" y1="70.60" x2="260.86" y2="71.80" stroke="#777" stroke-width="0.6"/>
<line x1="274.92" y1="70.60" x2="274.92" y2="71.80" stroke="#777" stroke-width="0.6"/>
<line x1="288.98" y1="70.60" x2="288.98" y2="71.80" stroke="#777" stroke-width="0.6"/>
<line x1="303.04" y1="70.60" x2="303.04" y2="71.80" stroke="#777" stroke-width="0.6"/>
<line x1="317.10" y1="70.60" x2="317.10" y2="71.80" stroke="#777" stroke-width="0.6"/>
<line x1="331.16" y1="70.60" x2="331.16" y2="71.80" stroke="#777" stroke-width="0.6"/>
<line x1="354.50" y1="70.60" x2="354.50" y2="71.80" stroke="#777" stroke-width="0.6"/>
<line x1="368.58" y1="70.60" x2="368.58" y2="71.80" stroke="#777" stroke-width="0.6"/>
<line x1="382.65" y1="70.60" x2="382.65" y2="71.80" stroke="#777" stroke-width="0.6"/>
<line x1="396.73" y1="70.60" x2="396.73" y2="71.80" stroke="#777" stroke-width="0.6"/>
<line x1="410.80" y1="70.60" x2="410.80" y2="71.80" stroke="#777" stroke-width="0.6"/>
<line x1="424.87" y1="70.60" x2="424.87" y2="71.80" stroke="#777" stroke-width="0.6"/>
<line x1="438.95" y1="70.60" x2="438.95" y2="71.80" stroke="#777" stroke-width="0.6"/>
<g transform="translate(22.10,75.20) scale(1.0130,1.0360)"><g clip-path="url(#cp1)"><rect x="-2" y="-2" width="104" height="54" fill="#c6f5ff"/><g filter="url(#bl)"><ellipse cx="38.6" cy="22.0" rx="12.1" ry="2.9" fill="#fff5a5"/><ellipse cx="36.4" cy="22.0" rx="6.2" ry="2.0" fill="#ffe070"/><ellipse cx="35.3" cy="21.5" rx="2.0" ry="1.3" fill="#ffa000"/><ellipse cx="46.4" cy="23.3" rx="4.0" ry="1.8" fill="#ffe070"/><ellipse cx="36.4" cy="15.4" rx="6.6" ry="2.0" fill="#a0e8ff"/><ellipse cx="28.7" cy="35.2" rx="16.6" ry="3.5" fill="#a0e8ff"/><ellipse cx="26.5" cy="38.2" rx="6.6" ry="1.5" fill="#7cd3ff"/><ellipse cx="75.1" cy="27.5" rx="13.2" ry="3.3" fill="#a0e8ff"/><ellipse cx="8.8" cy="32.3" rx="3.1" ry="3.3" fill="#ffe070"/><ellipse cx="45.3" cy="9.2" rx="2.2" ry="1.1" fill="#fff5a5"/></g><g filter="url(#bl2)"><ellipse cx="26.9" cy="18.0" rx="4.4" ry="2.9" fill="#ffe070"/><ellipse cx="18.1" cy="28.1" rx="4.4" ry="2.2" fill="#ffe070"/><ellipse cx="44.8" cy="37.4" rx="2.9" ry="2.2" fill="#ffe070"/><ellipse cx="26.0" cy="17.4" rx="3.5" ry="2.2" fill="#ff5a00"/><ellipse cx="17.7" cy="27.7" rx="3.8" ry="1.8" fill="#ff5a00"/><ellipse cx="44.8" cy="37.8" rx="2.2" ry="1.8" fill="#ff5a00"/><ellipse cx="43.7" cy="8.4" rx="2.2" ry="1.3" fill="#ffe070"/><ellipse cx="41.7" cy="6.2" rx="2.2" ry="1.5" fill="#0a73ff"/></g></g><use href="#ol1"/></g><rect x="22.10" y="75.20" width="101.30" height="51.80" fill="none" stroke="#666" stroke-width="1"/>
<g transform="translate(130.40,75.20) scale(1.0290,1.0360)"><g clip-path="url(#cp1)"><rect x="-2" y="-2" width="104" height="54" fill="#a0e8ff"/><g filter="url(#bl)"><ellipse cx="35.3" cy="14.9" rx="6.2" ry="2.4" fill="#7cd3ff"/><ellipse cx="41.9" cy="32.5" rx="21.0" ry="4.8" fill="#7cd3ff"/><ellipse cx="30.9" cy="37.8" rx="8.8" ry="1.8" fill="#4cbcff"/><ellipse cx="35.3" cy="21.1" rx="2.4" ry="1.5" fill="#ffbe28"/><ellipse cx="51.9" cy="22.0" rx="4.9" ry="1.8" fill="#ffe070"/><ellipse cx="79.5" cy="29.7" rx="12.1" ry="4.0" fill="#c6f5ff"/><ellipse cx="8.8" cy="33.0" rx="2.2" ry="3.1" fill="#ffe070"/><ellipse cx="43.0" cy="9.2" rx="1.8" ry="1.1" fill="#fff5a5"/></g><g filter="url(#bl2)"><ellipse cx="26.9" cy="18.0" rx="4.4" ry="2.9" fill="#ffe070"/><ellipse cx="18.1" cy="28.1" rx="4.4" ry="2.2" fill="#ffe070"/><ellipse cx="44.8" cy="37.4" rx="2.9" ry="2.2" fill="#ffe070"/><ellipse cx="26.0" cy="17.4" rx="3.5" ry="2.2" fill="#ff5a00"/><ellipse cx="17.7" cy="27.7" rx="3.8" ry="1.8" fill="#ff5a00"/><ellipse cx="44.8" cy="37.8" rx="2.2" ry="1.8" fill="#ff5a00"/><ellipse cx="43.7" cy="8.4" rx="2.2" ry="1.3" fill="#ffe070"/><ellipse cx="41.7" cy="6.2" rx="2.2" ry="1.5" fill="#0a73ff"/></g></g><use href="#ol1"/></g><rect x="130.40" y="75.20" width="102.90" height="51.80" fill="none" stroke="#666" stroke-width="1"/>
<g transform="translate(239.10,75.20) scale(1.0250,1.0360)"><g clip-path="url(#cp1)"><rect x="-2" y="-2" width="104" height="54" fill="#a0e8ff"/><g filter="url(#bl)"><ellipse cx="44.2" cy="21.3" rx="15.9" ry="2.6" fill="#fff5a5"/><ellipse cx="40.8" cy="21.3" rx="8.8" ry="1.8" fill="#ffe070"/><ellipse cx="35.3" cy="20.9" rx="2.0" ry="1.5" fill="#ffbe28"/><ellipse cx="35.3" cy="14.5" rx="6.2" ry="2.4" fill="#7cd3ff"/><ellipse cx="36.4" cy="35.2" rx="15.5" ry="4.4" fill="#7cd3ff"/><ellipse cx="35.3" cy="39.6" rx="9.9" ry="1.8" fill="#4cbcff"/><ellipse cx="79.5" cy="27.5" rx="9.9" ry="1.5" fill="#c6f5ff"/><ellipse cx="8.8" cy="33.0" rx="2.2" ry="3.1" fill="#ffe070"/></g><g filter="url(#bl2)"><ellipse cx="26.9" cy="18.0" rx="4.4" ry="2.9" fill="#ffe070"/><ellipse cx="18.1" cy="28.1" rx="4.4" ry="2.2" fill="#ffe070"/><ellipse cx="44.8" cy="37.4" rx="2.9" ry="2.2" fill="#ffe070"/><ellipse cx="26.0" cy="17.4" rx="3.5" ry="2.2" fill="#ff5a00"/><ellipse cx="17.7" cy="27.7" rx="3.8" ry="1.8" fill="#ff5a00"/><ellipse cx="44.8" cy="37.8" rx="2.2" ry="1.8" fill="#ff5a00"/><ellipse cx="43.7" cy="8.4" rx="2.2" ry="1.3" fill="#ffe070"/><ellipse cx="41.7" cy="6.2" rx="2.2" ry="1.5" fill="#0a73ff"/></g></g><use href="#ol1"/></g><rect x="239.10" y="75.20" width="102.50" height="51.80" fill="none" stroke="#666" stroke-width="1"/>
<g transform="translate(346.80,75.20) scale(1.0260,1.0360)"><g clip-path="url(#cp1)"><rect x="-2" y="-2" width="104" height="54" fill="#a0e8ff"/><g filter="url(#bl)"><ellipse cx="36.4" cy="15.4" rx="8.4" ry="2.9" fill="#7cd3ff"/><ellipse cx="39.7" cy="33.0" rx="23.2" ry="5.3" fill="#7cd3ff"/><ellipse cx="33.1" cy="37.8" rx="11.0" ry="1.8" fill="#4cbcff"/><ellipse cx="36.4" cy="21.3" rx="3.8" ry="1.5" fill="#ffe070"/><ellipse cx="48.6" cy="19.3" rx="2.2" ry="1.1" fill="#fff5a5"/><ellipse cx="8.8" cy="33.0" rx="2.2" ry="3.1" fill="#fff5a5"/></g><g filter="url(#bl2)"><ellipse cx="26.9" cy="18.0" rx="4.4" ry="2.9" fill="#ffe070"/><ellipse cx="18.1" cy="28.1" rx="4.4" ry="2.2" fill="#ffe070"/><ellipse cx="44.8" cy="37.4" rx="2.9" ry="2.2" fill="#ffe070"/><ellipse cx="26.0" cy="17.4" rx="3.5" ry="2.2" fill="#ff5a00"/><ellipse cx="17.7" cy="27.7" rx="3.8" ry="1.8" fill="#ff5a00"/><ellipse cx="44.8" cy="37.8" rx="2.2" ry="1.8" fill="#ff5a00"/><ellipse cx="43.7" cy="8.4" rx="2.2" ry="1.3" fill="#ffe070"/><ellipse cx="41.7" cy="6.2" rx="2.2" ry="1.5" fill="#0a73ff"/></g></g><use href="#ol1"/></g><rect x="346.80" y="75.20" width="102.60" height="51.80" fill="none" stroke="#666" stroke-width="1"/>
<text x="20.60" y="81.20" font-size="7.0" font-weight="bold" text-anchor="end" fill="#111" stroke="#111" stroke-width="0.18">50<tspan font-size="5.4" dy="-0.9">°</tspan><tspan dy="0.9"> N</tspan></text>
<line x1="20.80" y1="78.50" x2="22.10" y2="78.50" stroke="#444" stroke-width="0.8"/>
<line x1="129.10" y1="78.50" x2="130.40" y2="78.50" stroke="#444" stroke-width="0.8"/>
<line x1="237.80" y1="78.50" x2="239.10" y2="78.50" stroke="#444" stroke-width="0.8"/>
<line x1="345.50" y1="78.50" x2="346.80" y2="78.50" stroke="#444" stroke-width="0.8"/>
<text x="20.60" y="94.83" font-size="7.0" font-weight="bold" text-anchor="end" fill="#111" stroke="#111" stroke-width="0.18">45<tspan font-size="5.4" dy="-0.9">°</tspan><tspan dy="0.9"> N</tspan></text>
<line x1="20.80" y1="92.12" x2="22.10" y2="92.12" stroke="#444" stroke-width="0.8"/>
<line x1="129.10" y1="92.12" x2="130.40" y2="92.12" stroke="#444" stroke-width="0.8"/>
<line x1="237.80" y1="92.12" x2="239.10" y2="92.12" stroke="#444" stroke-width="0.8"/>
<line x1="345.50" y1="92.12" x2="346.80" y2="92.12" stroke="#444" stroke-width="0.8"/>
<text x="20.60" y="108.45" font-size="7.0" font-weight="bold" text-anchor="end" fill="#111" stroke="#111" stroke-width="0.18">40<tspan font-size="5.4" dy="-0.9">°</tspan><tspan dy="0.9"> N</tspan></text>
<line x1="20.80" y1="105.75" x2="22.10" y2="105.75" stroke="#444" stroke-width="0.8"/>
<line x1="129.10" y1="105.75" x2="130.40" y2="105.75" stroke="#444" stroke-width="0.8"/>
<line x1="237.80" y1="105.75" x2="239.10" y2="105.75" stroke="#444" stroke-width="0.8"/>
<line x1="345.50" y1="105.75" x2="346.80" y2="105.75" stroke="#444" stroke-width="0.8"/>
<text x="20.60" y="122.08" font-size="7.0" font-weight="bold" text-anchor="end" fill="#111" stroke="#111" stroke-width="0.18">35<tspan font-size="5.4" dy="-0.9">°</tspan><tspan dy="0.9"> N</tspan></text>
<line x1="20.80" y1="119.38" x2="22.10" y2="119.38" stroke="#444" stroke-width="0.8"/>
<line x1="129.10" y1="119.38" x2="130.40" y2="119.38" stroke="#444" stroke-width="0.8"/>
<line x1="237.80" y1="119.38" x2="239.10" y2="119.38" stroke="#444" stroke-width="0.8"/>
<line x1="345.50" y1="119.38" x2="346.80" y2="119.38" stroke="#444" stroke-width="0.8"/>
<line x1="30.30" y1="127.00" x2="30.30" y2="128.20" stroke="#777" stroke-width="0.6"/>
<line x1="44.19" y1="127.00" x2="44.19" y2="128.20" stroke="#777" stroke-width="0.6"/>
<line x1="58.09" y1="127.00" x2="58.09" y2="128.20" stroke="#777" stroke-width="0.6"/>
<line x1="71.99" y1="127.00" x2="71.99" y2="128.20" stroke="#777" stroke-width="0.6"/>
<line x1="85.88" y1="127.00" x2="85.88" y2="128.20" stroke="#777" stroke-width="0.6"/>
<line x1="99.78" y1="127.00" x2="99.78" y2="128.20" stroke="#777" stroke-width="0.6"/>
<line x1="113.67" y1="127.00" x2="113.67" y2="128.20" stroke="#777" stroke-width="0.6"/>
<line x1="138.73" y1="127.00" x2="138.73" y2="128.20" stroke="#777" stroke-width="0.6"/>
<line x1="152.84" y1="127.00" x2="152.84" y2="128.20" stroke="#777" stroke-width="0.6"/>
<line x1="166.96" y1="127.00" x2="166.96" y2="128.20" stroke="#777" stroke-width="0.6"/>
<line x1="181.07" y1="127.00" x2="181.07" y2="128.20" stroke="#777" stroke-width="0.6"/>
<line x1="195.19" y1="127.00" x2="195.19" y2="128.20" stroke="#777" stroke-width="0.6"/>
<line x1="209.30" y1="127.00" x2="209.30" y2="128.20" stroke="#777" stroke-width="0.6"/>
<line x1="223.42" y1="127.00" x2="223.42" y2="128.20" stroke="#777" stroke-width="0.6"/>
<line x1="247.40" y1="127.00" x2="247.40" y2="128.20" stroke="#777" stroke-width="0.6"/>
<line x1="261.46" y1="127.00" x2="261.46" y2="128.20" stroke="#777" stroke-width="0.6"/>
<line x1="275.52" y1="127.00" x2="275.52" y2="128.20" stroke="#777" stroke-width="0.6"/>
<line x1="289.58" y1="127.00" x2="289.58" y2="128.20" stroke="#777" stroke-width="0.6"/>
<line x1="303.64" y1="127.00" x2="303.64" y2="128.20" stroke="#777" stroke-width="0.6"/>
<line x1="317.70" y1="127.00" x2="317.70" y2="128.20" stroke="#777" stroke-width="0.6"/>
<line x1="331.76" y1="127.00" x2="331.76" y2="128.20" stroke="#777" stroke-width="0.6"/>
<line x1="355.10" y1="127.00" x2="355.10" y2="128.20" stroke="#777" stroke-width="0.6"/>
<line x1="369.18" y1="127.00" x2="369.18" y2="128.20" stroke="#777" stroke-width="0.6"/>
<line x1="383.25" y1="127.00" x2="383.25" y2="128.20" stroke="#777" stroke-width="0.6"/>
<line x1="397.33" y1="127.00" x2="397.33" y2="128.20" stroke="#777" stroke-width="0.6"/>
<line x1="411.40" y1="127.00" x2="411.40" y2="128.20" stroke="#777" stroke-width="0.6"/>
<line x1="425.47" y1="127.00" x2="425.47" y2="128.20" stroke="#777" stroke-width="0.6"/>
<line x1="439.55" y1="127.00" x2="439.55" y2="128.20" stroke="#777" stroke-width="0.6"/>
<g transform="translate(22.40,130.70) scale(1.0130,1.0400)"><g clip-path="url(#cp2)"><rect x="-2" y="-2" width="104" height="54" fill="#c6f5ff"/><g filter="url(#bl)"><ellipse cx="41.9" cy="27.5" rx="9.9" ry="6.6" fill="#fff5a5"/><ellipse cx="38.6" cy="24.6" rx="4.4" ry="2.6" fill="#ffe070"/><ellipse cx="35.3" cy="22.0" rx="2.0" ry="1.5" fill="#ffbe28"/><ellipse cx="59.6" cy="22.4" rx="4.4" ry="2.0" fill="#ffe070"/><ellipse cx="36.4" cy="14.9" rx="7.7" ry="2.6" fill="#7cd3ff"/><ellipse cx="23.2" cy="39.1" rx="10.6" ry="2.6" fill="#7cd3ff"/><ellipse cx="80.6" cy="29.7" rx="9.9" ry="4.4" fill="#7cd3ff"/><ellipse cx="11.0" cy="33.4" rx="4.9" ry="2.6" fill="#fff5a5"/></g><g filter="url(#bl2)"><ellipse cx="26.9" cy="18.0" rx="4.4" ry="2.9" fill="#ffe070"/><ellipse cx="18.1" cy="28.1" rx="4.4" ry="2.2" fill="#ffe070"/><ellipse cx="44.8" cy="37.4" rx="2.9" ry="2.2" fill="#ffe070"/><ellipse cx="26.0" cy="17.4" rx="3.5" ry="2.2" fill="#ff5a00"/><ellipse cx="17.7" cy="27.7" rx="3.8" ry="1.8" fill="#ff5a00"/><ellipse cx="44.8" cy="37.8" rx="2.2" ry="1.8" fill="#ff5a00"/><ellipse cx="43.7" cy="8.4" rx="2.2" ry="1.3" fill="#ffe070"/><ellipse cx="41.7" cy="6.2" rx="2.2" ry="1.5" fill="#0a73ff"/></g></g><use href="#ol2"/></g><rect x="22.40" y="130.70" width="101.30" height="52.00" fill="none" stroke="#666" stroke-width="1"/>
<g transform="translate(130.70,130.70) scale(1.0290,1.0400)"><g clip-path="url(#cp2)"><rect x="-2" y="-2" width="104" height="54" fill="#a0e8ff"/><g filter="url(#bl)"><ellipse cx="39.7" cy="14.9" rx="11.5" ry="4.4" fill="#7cd3ff"/><ellipse cx="37.5" cy="36.3" rx="25.4" ry="4.8" fill="#7cd3ff"/><ellipse cx="37.5" cy="40.0" rx="12.1" ry="1.8" fill="#4cbcff"/><ellipse cx="40.8" cy="22.0" rx="10.6" ry="1.8" fill="#fff5a5"/><ellipse cx="34.2" cy="22.0" rx="2.4" ry="1.5" fill="#ffbe28"/><ellipse cx="79.5" cy="27.5" rx="9.9" ry="1.5" fill="#c6f5ff"/><ellipse cx="8.8" cy="33.0" rx="2.2" ry="3.1" fill="#ffe070"/></g><g filter="url(#bl2)"><ellipse cx="26.9" cy="18.0" rx="4.4" ry="2.9" fill="#ffe070"/><ellipse cx="18.1" cy="28.1" rx="4.4" ry="2.2" fill="#ffe070"/><ellipse cx="44.8" cy="37.4" rx="2.9" ry="2.2" fill="#ffe070"/><ellipse cx="26.0" cy="17.4" rx="3.5" ry="2.2" fill="#ff5a00"/><ellipse cx="17.7" cy="27.7" rx="3.8" ry="1.8" fill="#ff5a00"/><ellipse cx="44.8" cy="37.8" rx="2.2" ry="1.8" fill="#ff5a00"/><ellipse cx="43.7" cy="8.4" rx="2.2" ry="1.3" fill="#ffe070"/><ellipse cx="41.7" cy="6.2" rx="2.2" ry="1.5" fill="#0a73ff"/></g></g><use href="#ol2"/></g><rect x="130.70" y="130.70" width="102.90" height="52.00" fill="none" stroke="#666" stroke-width="1"/>
<g transform="translate(239.40,130.70) scale(1.0250,1.0400)"><g clip-path="url(#cp2)"><rect x="-2" y="-2" width="104" height="54" fill="#a0e8ff"/><g filter="url(#bl)"><ellipse cx="38.6" cy="15.4" rx="10.6" ry="4.4" fill="#7cd3ff"/><ellipse cx="39.7" cy="35.6" rx="27.6" ry="5.7" fill="#7cd3ff"/><ellipse cx="35.3" cy="39.1" rx="13.2" ry="1.8" fill="#4cbcff"/><ellipse cx="79.5" cy="30.8" rx="13.7" ry="5.3" fill="#7cd3ff"/><ellipse cx="37.5" cy="22.0" rx="4.4" ry="1.5" fill="#ffe070"/><ellipse cx="39.7" cy="27.5" rx="16.6" ry="1.8" fill="#c6f5ff"/><ellipse cx="8.8" cy="33.0" rx="2.2" ry="3.1" fill="#ffe070"/><ellipse cx="75.1" cy="26.4" rx="9.9" ry="1.3" fill="#c6f5ff"/></g><g filter="url(#bl2)"><ellipse cx="26.9" cy="18.0" rx="4.4" ry="2.9" fill="#ffe070"/><ellipse cx="18.1" cy="28.1" rx="4.4" ry="2.2" fill="#ffe070"/><ellipse cx="44.8" cy="37.4" rx="2.9" ry="2.2" fill="#ffe070"/><ellipse cx="26.0" cy="17.4" rx="3.5" ry="2.2" fill="#ff5a00"/><ellipse cx="17.7" cy="27.7" rx="3.8" ry="1.8" fill="#ff5a00"/><ellipse cx="44.8" cy="37.8" rx="2.2" ry="1.8" fill="#ff5a00"/><ellipse cx="43.7" cy="8.4" rx="2.2" ry="1.3" fill="#ffe070"/><ellipse cx="41.7" cy="6.2" rx="2.2" ry="1.5" fill="#0a73ff"/></g></g><use href="#ol2"/></g><rect x="239.40" y="130.70" width="102.50" height="52.00" fill="none" stroke="#666" stroke-width="1"/>
<g transform="translate(347.10,130.70) scale(1.0260,1.0400)"><g clip-path="url(#cp2)"><rect x="-2" y="-2" width="104" height="54" fill="#7cd3ff"/><g filter="url(#bl)"><ellipse cx="39.7" cy="15.8" rx="12.1" ry="5.5" fill="#4cbcff"/><ellipse cx="37.5" cy="37.4" rx="25.4" ry="4.8" fill="#4cbcff"/><ellipse cx="33.1" cy="39.6" rx="14.3" ry="1.8" fill="#00abff"/><ellipse cx="35.3" cy="22.0" rx="4.9" ry="1.3" fill="#fff5a5"/><ellipse cx="77.3" cy="27.5" rx="9.9" ry="1.5" fill="#a0e8ff"/><ellipse cx="9.9" cy="33.0" rx="3.5" ry="3.5" fill="#ffe070"/></g><g filter="url(#bl2)"><ellipse cx="26.9" cy="18.0" rx="4.4" ry="2.9" fill="#ffe070"/><ellipse cx="18.1" cy="28.1" rx="4.4" ry="2.2" fill="#ffe070"/><ellipse cx="44.8" cy="37.4" rx="2.9" ry="2.2" fill="#ffe070"/><ellipse cx="26.0" cy="17.4" rx="3.5" ry="2.2" fill="#ff5a00"/><ellipse cx="17.7" cy="27.7" rx="3.8" ry="1.8" fill="#ff5a00"/><ellipse cx="44.8" cy="37.8" rx="2.2" ry="1.8" fill="#ff5a00"/><ellipse cx="43.7" cy="8.4" rx="2.2" ry="1.3" fill="#ffe070"/><ellipse cx="41.7" cy="6.2" rx="2.2" ry="1.5" fill="#0a73ff"/></g></g><use href="#ol2"/></g><rect x="347.10" y="130.70" width="102.60" height="52.00" fill="none" stroke="#666" stroke-width="1"/>
<text x="20.90" y="136.70" font-size="7.0" font-weight="bold" text-anchor="end" fill="#111" stroke="#111" stroke-width="0.18">50<tspan font-size="5.4" dy="-0.9">°</tspan><tspan dy="0.9"> N</tspan></text>
<line x1="21.10" y1="134.00" x2="22.40" y2="134.00" stroke="#444" stroke-width="0.8"/>
<line x1="129.40" y1="134.00" x2="130.70" y2="134.00" stroke="#444" stroke-width="0.8"/>
<line x1="238.10" y1="134.00" x2="239.40" y2="134.00" stroke="#444" stroke-width="0.8"/>
<line x1="345.80" y1="134.00" x2="347.10" y2="134.00" stroke="#444" stroke-width="0.8"/>
<text x="20.90" y="150.32" font-size="7.0" font-weight="bold" text-anchor="end" fill="#111" stroke="#111" stroke-width="0.18">45<tspan font-size="5.4" dy="-0.9">°</tspan><tspan dy="0.9"> N</tspan></text>
<line x1="21.10" y1="147.62" x2="22.40" y2="147.62" stroke="#444" stroke-width="0.8"/>
<line x1="129.40" y1="147.62" x2="130.70" y2="147.62" stroke="#444" stroke-width="0.8"/>
<line x1="238.10" y1="147.62" x2="239.40" y2="147.62" stroke="#444" stroke-width="0.8"/>
<line x1="345.80" y1="147.62" x2="347.10" y2="147.62" stroke="#444" stroke-width="0.8"/>
<text x="20.90" y="163.95" font-size="7.0" font-weight="bold" text-anchor="end" fill="#111" stroke="#111" stroke-width="0.18">40<tspan font-size="5.4" dy="-0.9">°</tspan><tspan dy="0.9"> N</tspan></text>
<line x1="21.10" y1="161.25" x2="22.40" y2="161.25" stroke="#444" stroke-width="0.8"/>
<line x1="129.40" y1="161.25" x2="130.70" y2="161.25" stroke="#444" stroke-width="0.8"/>
<line x1="238.10" y1="161.25" x2="239.40" y2="161.25" stroke="#444" stroke-width="0.8"/>
<line x1="345.80" y1="161.25" x2="347.10" y2="161.25" stroke="#444" stroke-width="0.8"/>
<text x="20.90" y="177.57" font-size="7.0" font-weight="bold" text-anchor="end" fill="#111" stroke="#111" stroke-width="0.18">35<tspan font-size="5.4" dy="-0.9">°</tspan><tspan dy="0.9"> N</tspan></text>
<line x1="21.10" y1="174.88" x2="22.40" y2="174.88" stroke="#444" stroke-width="0.8"/>
<line x1="129.40" y1="174.88" x2="130.70" y2="174.88" stroke="#444" stroke-width="0.8"/>
<line x1="238.10" y1="174.88" x2="239.40" y2="174.88" stroke="#444" stroke-width="0.8"/>
<line x1="345.80" y1="174.88" x2="347.10" y2="174.88" stroke="#444" stroke-width="0.8"/>
<line x1="30.60" y1="182.70" x2="30.60" y2="183.90" stroke="#777" stroke-width="0.6"/>
<line x1="44.49" y1="182.70" x2="44.49" y2="183.90" stroke="#777" stroke-width="0.6"/>
<line x1="58.39" y1="182.70" x2="58.39" y2="183.90" stroke="#777" stroke-width="0.6"/>
<line x1="72.29" y1="182.70" x2="72.29" y2="183.90" stroke="#777" stroke-width="0.6"/>
<line x1="86.18" y1="182.70" x2="86.18" y2="183.90" stroke="#777" stroke-width="0.6"/>
<line x1="100.08" y1="182.70" x2="100.08" y2="183.90" stroke="#777" stroke-width="0.6"/>
<line x1="113.97" y1="182.70" x2="113.97" y2="183.90" stroke="#777" stroke-width="0.6"/>
<line x1="139.03" y1="182.70" x2="139.03" y2="183.90" stroke="#777" stroke-width="0.6"/>
<line x1="153.14" y1="182.70" x2="153.14" y2="183.90" stroke="#777" stroke-width="0.6"/>
<line x1="167.26" y1="182.70" x2="167.26" y2="183.90" stroke="#777" stroke-width="0.6"/>
<line x1="181.37" y1="182.70" x2="181.37" y2="183.90" stroke="#777" stroke-width="0.6"/>
<line x1="195.49" y1="182.70" x2="195.49" y2="183.90" stroke="#777" stroke-width="0.6"/>
<line x1="209.60" y1="182.70" x2="209.60" y2="183.90" stroke="#777" stroke-width="0.6"/>
<line x1="223.72" y1="182.70" x2="223.72" y2="183.90" stroke="#777" stroke-width="0.6"/>
<line x1="247.70" y1="182.70" x2="247.70" y2="183.90" stroke="#777" stroke-width="0.6"/>
<line x1="261.76" y1="182.70" x2="261.76" y2="183.90" stroke="#777" stroke-width="0.6"/>
<line x1="275.82" y1="182.70" x2="275.82" y2="183.90" stroke="#777" stroke-width="0.6"/>
<line x1="289.88" y1="182.70" x2="289.88" y2="183.90" stroke="#777" stroke-width="0.6"/>
<line x1="303.94" y1="182.70" x2="303.94" y2="183.90" stroke="#777" stroke-width="0.6"/>
<line x1="318.00" y1="182.70" x2="318.00" y2="183.90" stroke="#777" stroke-width="0.6"/>
<line x1="332.06" y1="182.70" x2="332.06" y2="183.90" stroke="#777" stroke-width="0.6"/>
<line x1="355.40" y1="182.70" x2="355.40" y2="183.90" stroke="#777" stroke-width="0.6"/>
<line x1="369.48" y1="182.70" x2="369.48" y2="183.90" stroke="#777" stroke-width="0.6"/>
<line x1="383.55" y1="182.70" x2="383.55" y2="183.90" stroke="#777" stroke-width="0.6"/>
<line x1="397.63" y1="182.70" x2="397.63" y2="183.90" stroke="#777" stroke-width="0.6"/>
<line x1="411.70" y1="182.70" x2="411.70" y2="183.90" stroke="#777" stroke-width="0.6"/>
<line x1="425.77" y1="182.70" x2="425.77" y2="183.90" stroke="#777" stroke-width="0.6"/>
<line x1="439.85" y1="182.70" x2="439.85" y2="183.90" stroke="#777" stroke-width="0.6"/>
<g transform="translate(22.70,187.40) scale(1.0130,1.0060)"><g clip-path="url(#cp3)"><rect x="-2" y="-2" width="104" height="54" fill="#fff5a5"/><g filter="url(#bl)"><ellipse cx="41.9" cy="20.9" rx="13.2" ry="6.6" fill="#ffe070"/><ellipse cx="34.9" cy="20.9" rx="2.2" ry="1.5" fill="#ffbe28"/><ellipse cx="30.9" cy="36.3" rx="19.4" ry="4.8" fill="#c6f5ff"/><ellipse cx="28.7" cy="40.0" rx="9.9" ry="1.8" fill="#7cd3ff"/><ellipse cx="77.3" cy="29.7" rx="16.6" ry="5.9" fill="#c6f5ff"/><ellipse cx="47.5" cy="27.5" rx="7.1" ry="1.5" fill="#c6f5ff"/><ellipse cx="35.3" cy="12.7" rx="3.3" ry="1.8" fill="#c6f5ff"/><ellipse cx="8.8" cy="33.0" rx="2.6" ry="3.1" fill="#ffe070"/></g><g filter="url(#bl2)"><ellipse cx="26.9" cy="18.0" rx="4.4" ry="2.9" fill="#ffe070"/><ellipse cx="18.1" cy="28.1" rx="4.4" ry="2.2" fill="#ffe070"/><ellipse cx="44.8" cy="37.4" rx="2.9" ry="2.2" fill="#ffe070"/><ellipse cx="26.0" cy="17.4" rx="3.5" ry="2.2" fill="#ff5a00"/><ellipse cx="17.7" cy="27.7" rx="3.8" ry="1.8" fill="#ff5a00"/><ellipse cx="44.8" cy="37.8" rx="2.2" ry="1.8" fill="#ff5a00"/><ellipse cx="43.7" cy="8.4" rx="2.2" ry="1.3" fill="#ffe070"/><ellipse cx="41.7" cy="6.2" rx="2.2" ry="1.5" fill="#0a73ff"/></g></g><use href="#ol3"/></g><rect x="22.70" y="187.40" width="101.30" height="50.30" fill="none" stroke="#666" stroke-width="1"/>
<g transform="translate(131.00,187.40) scale(1.0290,1.0060)"><g clip-path="url(#cp3)"><rect x="-2" y="-2" width="104" height="54" fill="#a0e8ff"/><g filter="url(#bl)"><ellipse cx="41.9" cy="13.8" rx="11.5" ry="4.8" fill="#7cd3ff"/><ellipse cx="35.3" cy="34.5" rx="23.2" ry="5.7" fill="#7cd3ff"/><ellipse cx="33.1" cy="38.9" rx="12.1" ry="2.0" fill="#4cbcff"/><ellipse cx="36.4" cy="20.2" rx="4.9" ry="1.8" fill="#ffa000"/><path d="M13.2,28.6 L33.1,28.1 L55.2,25.9" fill="none" stroke="#c6f5ff" stroke-width="2.2" stroke-linecap="round" stroke-linejoin="round"/><ellipse cx="51.2" cy="19.8" rx="6.0" ry="1.3" fill="#ffe070"/><ellipse cx="80.6" cy="33.0" rx="2.6" ry="1.1" fill="#fff5a5"/><ellipse cx="8.8" cy="33.0" rx="2.2" ry="3.1" fill="#ffe070"/><ellipse cx="77.3" cy="28.1" rx="11.0" ry="2.2" fill="#4cbcff"/></g><g filter="url(#bl2)"><ellipse cx="26.9" cy="18.0" rx="4.4" ry="2.9" fill="#ffe070"/><ellipse cx="18.1" cy="28.1" rx="4.4" ry="2.2" fill="#ffe070"/><ellipse cx="44.8" cy="37.4" rx="2.9" ry="2.2" fill="#ffe070"/><ellipse cx="26.0" cy="17.4" rx="3.5" ry="2.2" fill="#ff5a00"/><ellipse cx="17.7" cy="27.7" rx="3.8" ry="1.8" fill="#ff5a00"/><ellipse cx="44.8" cy="37.8" rx="2.2" ry="1.8" fill="#ff5a00"/><ellipse cx="43.7" cy="8.4" rx="2.2" ry="1.3" fill="#ffe070"/><ellipse cx="41.7" cy="6.2" rx="2.2" ry="1.5" fill="#0a73ff"/></g></g><use href="#ol3"/></g><rect x="131.00" y="187.40" width="102.90" height="50.30" fill="none" stroke="#666" stroke-width="1"/>
<g transform="translate(239.70,187.40) scale(1.0250,1.0060)"><g clip-path="url(#cp3)"><rect x="-2" y="-2" width="104" height="54" fill="#7cd3ff"/><g filter="url(#bl)"><ellipse cx="40.8" cy="13.6" rx="12.8" ry="5.3" fill="#00abff"/><ellipse cx="33.1" cy="36.3" rx="18.8" ry="4.4" fill="#00abff"/><ellipse cx="37.5" cy="39.6" rx="8.8" ry="1.8" fill="#0096ff"/><ellipse cx="28.7" cy="27.5" rx="16.6" ry="2.0" fill="#7cd3ff"/><ellipse cx="79.5" cy="29.7" rx="14.3" ry="4.8" fill="#00abff"/><ellipse cx="72.8" cy="27.5" rx="12.1" ry="1.3" fill="#7cd3ff"/><ellipse cx="36.4" cy="20.2" rx="4.4" ry="1.5" fill="#ffe070"/><ellipse cx="26.5" cy="22.0" rx="3.5" ry="1.3" fill="#fff5a5"/><ellipse cx="8.8" cy="33.0" rx="2.6" ry="3.5" fill="#ffe070"/></g><g filter="url(#bl2)"><ellipse cx="26.9" cy="18.0" rx="4.4" ry="2.9" fill="#ffe070"/><ellipse cx="18.1" cy="28.1" rx="4.4" ry="2.2" fill="#ffe070"/><ellipse cx="44.8" cy="37.4" rx="2.9" ry="2.2" fill="#ffe070"/><ellipse cx="26.0" cy="17.4" rx="3.5" ry="2.2" fill="#ff5a00"/><ellipse cx="17.7" cy="27.7" rx="3.8" ry="1.8" fill="#ff5a00"/><ellipse cx="44.8" cy="37.8" rx="2.2" ry="1.8" fill="#ff5a00"/><ellipse cx="43.7" cy="8.4" rx="2.2" ry="1.3" fill="#ffe070"/><ellipse cx="41.7" cy="6.2" rx="2.2" ry="1.5" fill="#0a73ff"/></g></g><use href="#ol3"/></g><rect x="239.70" y="187.40" width="102.50" height="50.30" fill="none" stroke="#666" stroke-width="1"/>
<g transform="translate(347.40,187.40) scale(1.0260,1.0060)"><g clip-path="url(#cp3)"><rect x="-2" y="-2" width="104" height="54" fill="#7cd3ff"/><g filter="url(#bl)"><ellipse cx="39.7" cy="13.8" rx="11.5" ry="4.8" fill="#4cbcff"/><ellipse cx="35.3" cy="36.3" rx="23.2" ry="5.3" fill="#4cbcff"/><ellipse cx="33.1" cy="39.6" rx="11.0" ry="1.8" fill="#00abff"/><ellipse cx="30.9" cy="21.5" rx="9.3" ry="2.0" fill="#fff5a5"/><ellipse cx="36.4" cy="20.2" rx="3.5" ry="1.3" fill="#ffbe28"/><ellipse cx="12.1" cy="30.8" rx="6.2" ry="4.4" fill="#ffe070"/><ellipse cx="77.3" cy="29.7" rx="12.1" ry="3.3" fill="#7cd3ff"/></g><g filter="url(#bl2)"><ellipse cx="26.9" cy="18.0" rx="4.4" ry="2.9" fill="#ffe070"/><ellipse cx="18.1" cy="28.1" rx="4.4" ry="2.2" fill="#ffe070"/><ellipse cx="44.8" cy="37.4" rx="2.9" ry="2.2" fill="#ffe070"/><ellipse cx="26.0" cy="17.4" rx="3.5" ry="2.2" fill="#ff5a00"/><ellipse cx="17.7" cy="27.7" rx="3.8" ry="1.8" fill="#ff5a00"/><ellipse cx="44.8" cy="37.8" rx="2.2" ry="1.8" fill="#ff5a00"/><ellipse cx="43.7" cy="8.4" rx="2.2" ry="1.3" fill="#ffe070"/><ellipse cx="41.7" cy="6.2" rx="2.2" ry="1.5" fill="#0a73ff"/></g></g><use href="#ol3"/></g><rect x="347.40" y="187.40" width="102.60" height="50.30" fill="none" stroke="#666" stroke-width="1"/>
<text x="21.20" y="193.40" font-size="7.0" font-weight="bold" text-anchor="end" fill="#111" stroke="#111" stroke-width="0.18">50<tspan font-size="5.4" dy="-0.9">°</tspan><tspan dy="0.9"> N</tspan></text>
<line x1="21.40" y1="190.70" x2="22.70" y2="190.70" stroke="#444" stroke-width="0.8"/>
<line x1="129.70" y1="190.70" x2="131.00" y2="190.70" stroke="#444" stroke-width="0.8"/>
<line x1="238.40" y1="190.70" x2="239.70" y2="190.70" stroke="#444" stroke-width="0.8"/>
<line x1="346.10" y1="190.70" x2="347.40" y2="190.70" stroke="#444" stroke-width="0.8"/>
<text x="21.20" y="207.03" font-size="7.0" font-weight="bold" text-anchor="end" fill="#111" stroke="#111" stroke-width="0.18">45<tspan font-size="5.4" dy="-0.9">°</tspan><tspan dy="0.9"> N</tspan></text>
<line x1="21.40" y1="204.33" x2="22.70" y2="204.33" stroke="#444" stroke-width="0.8"/>
<line x1="129.70" y1="204.33" x2="131.00" y2="204.33" stroke="#444" stroke-width="0.8"/>
<line x1="238.40" y1="204.33" x2="239.70" y2="204.33" stroke="#444" stroke-width="0.8"/>
<line x1="346.10" y1="204.33" x2="347.40" y2="204.33" stroke="#444" stroke-width="0.8"/>
<text x="21.20" y="220.65" font-size="7.0" font-weight="bold" text-anchor="end" fill="#111" stroke="#111" stroke-width="0.18">40<tspan font-size="5.4" dy="-0.9">°</tspan><tspan dy="0.9"> N</tspan></text>
<line x1="21.40" y1="217.95" x2="22.70" y2="217.95" stroke="#444" stroke-width="0.8"/>
<line x1="129.70" y1="217.95" x2="131.00" y2="217.95" stroke="#444" stroke-width="0.8"/>
<line x1="238.40" y1="217.95" x2="239.70" y2="217.95" stroke="#444" stroke-width="0.8"/>
<line x1="346.10" y1="217.95" x2="347.40" y2="217.95" stroke="#444" stroke-width="0.8"/>
<text x="21.20" y="234.28" font-size="7.0" font-weight="bold" text-anchor="end" fill="#111" stroke="#111" stroke-width="0.18">35<tspan font-size="5.4" dy="-0.9">°</tspan><tspan dy="0.9"> N</tspan></text>
<line x1="21.40" y1="231.58" x2="22.70" y2="231.58" stroke="#444" stroke-width="0.8"/>
<line x1="129.70" y1="231.58" x2="131.00" y2="231.58" stroke="#444" stroke-width="0.8"/>
<line x1="238.40" y1="231.58" x2="239.70" y2="231.58" stroke="#444" stroke-width="0.8"/>
<line x1="346.10" y1="231.58" x2="347.40" y2="231.58" stroke="#444" stroke-width="0.8"/>
<line x1="30.90" y1="237.70" x2="30.90" y2="238.90" stroke="#777" stroke-width="0.6"/>
<line x1="44.79" y1="237.70" x2="44.79" y2="238.90" stroke="#777" stroke-width="0.6"/>
<line x1="58.69" y1="237.70" x2="58.69" y2="238.90" stroke="#777" stroke-width="0.6"/>
<line x1="72.59" y1="237.70" x2="72.59" y2="238.90" stroke="#777" stroke-width="0.6"/>
<line x1="86.48" y1="237.70" x2="86.48" y2="238.90" stroke="#777" stroke-width="0.6"/>
<line x1="100.38" y1="237.70" x2="100.38" y2="238.90" stroke="#777" stroke-width="0.6"/>
<line x1="114.27" y1="237.70" x2="114.27" y2="238.90" stroke="#777" stroke-width="0.6"/>
<line x1="139.33" y1="237.70" x2="139.33" y2="238.90" stroke="#777" stroke-width="0.6"/>
<line x1="153.44" y1="237.70" x2="153.44" y2="238.90" stroke="#777" stroke-width="0.6"/>
<line x1="167.56" y1="237.70" x2="167.56" y2="238.90" stroke="#777" stroke-width="0.6"/>
<line x1="181.67" y1="237.70" x2="181.67" y2="238.90" stroke="#777" stroke-width="0.6"/>
<line x1="195.79" y1="237.70" x2="195.79" y2="238.90" stroke="#777" stroke-width="0.6"/>
<line x1="209.90" y1="237.70" x2="209.90" y2="238.90" stroke="#777" stroke-width="0.6"/>
<line x1="224.02" y1="237.70" x2="224.02" y2="238.90" stroke="#777" stroke-width="0.6"/>
<line x1="248.00" y1="237.70" x2="248.00" y2="238.90" stroke="#777" stroke-width="0.6"/>
<line x1="262.06" y1="237.70" x2="262.06" y2="238.90" stroke="#777" stroke-width="0.6"/>
<line x1="276.12" y1="237.70" x2="276.12" y2="238.90" stroke="#777" stroke-width="0.6"/>
<line x1="290.18" y1="237.70" x2="290.18" y2="238.90" stroke="#777" stroke-width="0.6"/>
<line x1="304.24" y1="237.70" x2="304.24" y2="238.90" stroke="#777" stroke-width="0.6"/>
<line x1="318.30" y1="237.70" x2="318.30" y2="238.90" stroke="#777" stroke-width="0.6"/>
<line x1="332.36" y1="237.70" x2="332.36" y2="238.90" stroke="#777" stroke-width="0.6"/>
<line x1="355.70" y1="237.70" x2="355.70" y2="238.90" stroke="#777" stroke-width="0.6"/>
<line x1="369.78" y1="237.70" x2="369.78" y2="238.90" stroke="#777" stroke-width="0.6"/>
<line x1="383.85" y1="237.70" x2="383.85" y2="238.90" stroke="#777" stroke-width="0.6"/>
<line x1="397.93" y1="237.70" x2="397.93" y2="238.90" stroke="#777" stroke-width="0.6"/>
<line x1="412.00" y1="237.70" x2="412.00" y2="238.90" stroke="#777" stroke-width="0.6"/>
<line x1="426.07" y1="237.70" x2="426.07" y2="238.90" stroke="#777" stroke-width="0.6"/>
<line x1="440.15" y1="237.70" x2="440.15" y2="238.90" stroke="#777" stroke-width="0.6"/>
<text x="30.90" y="245.50" font-size="7.3" letter-spacing="-0.2" font-weight="bold" text-anchor="middle" fill="#111" stroke="#111" stroke-width="0.18">75<tspan font-size="5.6" dy="-0.4">°</tspan><tspan dy="0.4"> E</tspan></text>
<text x="58.69" y="245.50" font-size="7.3" letter-spacing="-0.2" font-weight="bold" text-anchor="middle" fill="#111" stroke="#111" stroke-width="0.18">85<tspan font-size="5.6" dy="-0.4">°</tspan><tspan dy="0.4"> E</tspan></text>
<text x="86.48" y="245.50" font-size="7.3" letter-spacing="-0.2" font-weight="bold" text-anchor="middle" fill="#111" stroke="#111" stroke-width="0.18">95<tspan font-size="5.6" dy="-0.4">°</tspan><tspan dy="0.4"> E</tspan></text>
<text x="114.27" y="245.50" font-size="7.3" letter-spacing="-0.2" font-weight="bold" text-anchor="middle" fill="#111" stroke="#111" stroke-width="0.18">105<tspan font-size="5.6" dy="-0.4">°</tspan><tspan dy="0.4"> E</tspan></text>
<text x="139.33" y="245.50" font-size="7.3" letter-spacing="-0.2" font-weight="bold" text-anchor="middle" fill="#111" stroke="#111" stroke-width="0.18">75<tspan font-size="5.6" dy="-0.4">°</tspan><tspan dy="0.4"> E</tspan></text>
<text x="167.56" y="245.50" font-size="7.3" letter-spacing="-0.2" font-weight="bold" text-anchor="middle" fill="#111" stroke="#111" stroke-width="0.18">85<tspan font-size="5.6" dy="-0.4">°</tspan><tspan dy="0.4"> E</tspan></text>
<text x="195.79" y="245.50" font-size="7.3" letter-spacing="-0.2" font-weight="bold" text-anchor="middle" fill="#111" stroke="#111" stroke-width="0.18">95<tspan font-size="5.6" dy="-0.4">°</tspan><tspan dy="0.4"> E</tspan></text>
<text x="224.02" y="245.50" font-size="7.3" letter-spacing="-0.2" font-weight="bold" text-anchor="middle" fill="#111" stroke="#111" stroke-width="0.18">105<tspan font-size="5.6" dy="-0.4">°</tspan><tspan dy="0.4"> E</tspan></text>
<text x="248.00" y="245.50" font-size="7.3" letter-spacing="-0.2" font-weight="bold" text-anchor="middle" fill="#111" stroke="#111" stroke-width="0.18">75<tspan font-size="5.6" dy="-0.4">°</tspan><tspan dy="0.4"> E</tspan></text>
<text x="276.12" y="245.50" font-size="7.3" letter-spacing="-0.2" font-weight="bold" text-anchor="middle" fill="#111" stroke="#111" stroke-width="0.18">85<tspan font-size="5.6" dy="-0.4">°</tspan><tspan dy="0.4"> E</tspan></text>
<text x="304.24" y="245.50" font-size="7.3" letter-spacing="-0.2" font-weight="bold" text-anchor="middle" fill="#111" stroke="#111" stroke-width="0.18">95<tspan font-size="5.6" dy="-0.4">°</tspan><tspan dy="0.4"> E</tspan></text>
<text x="332.36" y="245.50" font-size="7.3" letter-spacing="-0.2" font-weight="bold" text-anchor="middle" fill="#111" stroke="#111" stroke-width="0.18">105<tspan font-size="5.6" dy="-0.4">°</tspan><tspan dy="0.4"> E</tspan></text>
<text x="355.70" y="245.50" font-size="7.3" letter-spacing="-0.2" font-weight="bold" text-anchor="middle" fill="#111" stroke="#111" stroke-width="0.18">75<tspan font-size="5.6" dy="-0.4">°</tspan><tspan dy="0.4"> E</tspan></text>
<text x="383.85" y="245.50" font-size="7.3" letter-spacing="-0.2" font-weight="bold" text-anchor="middle" fill="#111" stroke="#111" stroke-width="0.18">85<tspan font-size="5.6" dy="-0.4">°</tspan><tspan dy="0.4"> E</tspan></text>
<text x="412.00" y="245.50" font-size="7.3" letter-spacing="-0.2" font-weight="bold" text-anchor="middle" fill="#111" stroke="#111" stroke-width="0.18">95<tspan font-size="5.6" dy="-0.4">°</tspan><tspan dy="0.4"> E</tspan></text>
<text x="440.15" y="245.50" font-size="7.3" letter-spacing="-0.2" font-weight="bold" text-anchor="middle" fill="#111" stroke="#111" stroke-width="0.18">105<tspan font-size="5.6" dy="-0.4">°</tspan><tspan dy="0.4"> E</tspan></text>
<g transform="translate(21.50,275.10) scale(1.0130,1.0380)"><g clip-path="url(#cp4)"><rect x="-2" y="-2" width="104" height="54" fill="#fff5a5"/><g filter="url(#bl)"><ellipse cx="33.1" cy="18.9" rx="6.6" ry="3.1" fill="#ffa000"/><ellipse cx="23.2" cy="33.0" rx="16.6" ry="6.6" fill="#c6f5ff"/><ellipse cx="35.3" cy="29.7" rx="9.9" ry="5.5" fill="#c6f5ff"/><ellipse cx="34.2" cy="15.4" rx="5.5" ry="2.6" fill="#c6f5ff"/><ellipse cx="83.9" cy="31.2" rx="9.9" ry="4.8" fill="#c6f5ff"/><ellipse cx="46.4" cy="36.3" rx="3.1" ry="3.1" fill="#ffa000"/><ellipse cx="47.5" cy="10.3" rx="1.8" ry="1.1" fill="#a0e8ff"/><ellipse cx="19.9" cy="35.2" rx="4.9" ry="2.2" fill="#a0e8ff"/><ellipse cx="28.7" cy="38.5" rx="4.4" ry="1.3" fill="#a0e8ff"/><ellipse cx="53.0" cy="20.9" rx="8.8" ry="4.4" fill="#ffe070"/></g><g filter="url(#bl2)"><ellipse cx="26.9" cy="18.0" rx="4.4" ry="2.9" fill="#ffe070"/><ellipse cx="18.1" cy="28.1" rx="4.4" ry="2.2" fill="#ffe070"/><ellipse cx="44.8" cy="37.4" rx="2.9" ry="2.2" fill="#ffe070"/><ellipse cx="26.0" cy="17.4" rx="3.5" ry="2.2" fill="#ff5a00"/><ellipse cx="17.7" cy="27.7" rx="3.8" ry="1.8" fill="#ff5a00"/><ellipse cx="44.8" cy="37.8" rx="2.2" ry="1.8" fill="#ff5a00"/><ellipse cx="43.7" cy="8.4" rx="2.2" ry="1.3" fill="#ffe070"/><ellipse cx="41.7" cy="6.2" rx="2.2" ry="1.5" fill="#0a73ff"/></g></g><use href="#ol4"/></g><rect x="21.50" y="275.10" width="101.30" height="51.90" fill="none" stroke="#666" stroke-width="1"/>
<g transform="translate(129.80,275.10) scale(1.0290,1.0380)"><g clip-path="url(#cp4)"><rect x="-2" y="-2" width="104" height="54" fill="#fff5a5"/><g filter="url(#bl)"><ellipse cx="28.7" cy="33.0" rx="21.0" ry="7.5" fill="#c6f5ff"/><ellipse cx="28.7" cy="36.3" rx="13.2" ry="4.4" fill="#7cd3ff"/><ellipse cx="22.1" cy="39.6" rx="7.7" ry="2.0" fill="#4cbcff"/><ellipse cx="35.3" cy="15.4" rx="6.2" ry="2.6" fill="#c6f5ff"/><ellipse cx="36.4" cy="20.9" rx="5.3" ry="2.2" fill="#ffa000"/><ellipse cx="78.4" cy="31.9" rx="7.7" ry="2.9" fill="#c6f5ff"/><ellipse cx="47.5" cy="9.9" rx="1.8" ry="1.1" fill="#00abff"/><ellipse cx="55.2" cy="19.8" rx="7.7" ry="5.5" fill="#ffe070"/></g><g filter="url(#bl2)"><ellipse cx="26.9" cy="18.0" rx="4.4" ry="2.9" fill="#ffe070"/><ellipse cx="18.1" cy="28.1" rx="4.4" ry="2.2" fill="#ffe070"/><ellipse cx="44.8" cy="37.4" rx="2.9" ry="2.2" fill="#ffe070"/><ellipse cx="26.0" cy="17.4" rx="3.5" ry="2.2" fill="#ff5a00"/><ellipse cx="17.7" cy="27.7" rx="3.8" ry="1.8" fill="#ff5a00"/><ellipse cx="44.8" cy="37.8" rx="2.2" ry="1.8" fill="#ff5a00"/><ellipse cx="43.7" cy="8.4" rx="2.2" ry="1.3" fill="#ffe070"/><ellipse cx="41.7" cy="6.2" rx="2.2" ry="1.5" fill="#0a73ff"/></g></g><use href="#ol4"/></g><rect x="129.80" y="275.10" width="102.90" height="51.90" fill="none" stroke="#666" stroke-width="1"/>
<g transform="translate(238.50,275.10) scale(1.0250,1.0380)"><g clip-path="url(#cp4)"><rect x="-2" y="-2" width="104" height="54" fill="#fff5a5"/><g filter="url(#bl)"><ellipse cx="30.9" cy="32.5" rx="22.1" ry="8.8" fill="#a0e8ff"/><ellipse cx="30.9" cy="36.3" rx="14.3" ry="4.8" fill="#7cd3ff"/><ellipse cx="28.7" cy="39.6" rx="7.7" ry="2.0" fill="#4cbcff"/><ellipse cx="35.3" cy="14.9" rx="7.1" ry="3.3" fill="#7cd3ff"/><ellipse cx="35.3" cy="20.9" rx="5.3" ry="2.2" fill="#ffa000"/><ellipse cx="83.9" cy="29.7" rx="11.0" ry="4.8" fill="#c6f5ff"/><ellipse cx="47.5" cy="9.9" rx="1.8" ry="1.1" fill="#00abff"/><ellipse cx="55.2" cy="19.8" rx="7.7" ry="5.5" fill="#ffe070"/></g><g filter="url(#bl2)"><ellipse cx="26.9" cy="18.0" rx="4.4" ry="2.9" fill="#ffe070"/><ellipse cx="18.1" cy="28.1" rx="4.4" ry="2.2" fill="#ffe070"/><ellipse cx="44.8" cy="37.4" rx="2.9" ry="2.2" fill="#ffe070"/><ellipse cx="26.0" cy="17.4" rx="3.5" ry="2.2" fill="#ff5a00"/><ellipse cx="17.7" cy="27.7" rx="3.8" ry="1.8" fill="#ff5a00"/><ellipse cx="44.8" cy="37.8" rx="2.2" ry="1.8" fill="#ff5a00"/><ellipse cx="43.7" cy="8.4" rx="2.2" ry="1.3" fill="#ffe070"/><ellipse cx="41.7" cy="6.2" rx="2.2" ry="1.5" fill="#0a73ff"/></g></g><use href="#ol4"/></g><rect x="238.50" y="275.10" width="102.50" height="51.90" fill="none" stroke="#666" stroke-width="1"/>
<g transform="translate(346.20,275.10) scale(1.0260,1.0380)"><g clip-path="url(#cp4)"><rect x="-2" y="-2" width="104" height="54" fill="#fff5a5"/><g filter="url(#bl)"><ellipse cx="55.2" cy="19.8" rx="11.5" ry="7.0" fill="#ffe070"/><ellipse cx="30.9" cy="31.9" rx="17.7" ry="7.0" fill="#c6f5ff"/><ellipse cx="26.5" cy="36.3" rx="9.9" ry="3.1" fill="#7cd3ff"/><ellipse cx="37.5" cy="15.4" rx="6.0" ry="2.2" fill="#c6f5ff"/><ellipse cx="34.2" cy="20.2" rx="5.7" ry="2.2" fill="#ffa000"/><ellipse cx="45.3" cy="9.9" rx="2.9" ry="1.5" fill="#ffa000"/><ellipse cx="83.9" cy="30.8" rx="9.9" ry="4.4" fill="#c6f5ff"/></g><g filter="url(#bl2)"><ellipse cx="26.9" cy="18.0" rx="4.4" ry="2.9" fill="#ffe070"/><ellipse cx="18.1" cy="28.1" rx="4.4" ry="2.2" fill="#ffe070"/><ellipse cx="44.8" cy="37.4" rx="2.9" ry="2.2" fill="#ffe070"/><ellipse cx="26.0" cy="17.4" rx="3.5" ry="2.2" fill="#ff5a00"/><ellipse cx="17.7" cy="27.7" rx="3.8" ry="1.8" fill="#ff5a00"/><ellipse cx="44.8" cy="37.8" rx="2.2" ry="1.8" fill="#ff5a00"/><ellipse cx="43.7" cy="8.4" rx="2.2" ry="1.3" fill="#ffe070"/><ellipse cx="41.7" cy="6.2" rx="2.2" ry="1.5" fill="#0a73ff"/></g></g><use href="#ol4"/></g><rect x="346.20" y="275.10" width="102.60" height="51.90" fill="none" stroke="#666" stroke-width="1"/>
<text x="20.00" y="281.10" font-size="7.0" font-weight="bold" text-anchor="end" fill="#111" stroke="#111" stroke-width="0.18">50<tspan font-size="5.4" dy="-0.9">°</tspan><tspan dy="0.9"> N</tspan></text>
<line x1="20.20" y1="278.40" x2="21.50" y2="278.40" stroke="#444" stroke-width="0.8"/>
<line x1="128.50" y1="278.40" x2="129.80" y2="278.40" stroke="#444" stroke-width="0.8"/>
<line x1="237.20" y1="278.40" x2="238.50" y2="278.40" stroke="#444" stroke-width="0.8"/>
<line x1="344.90" y1="278.40" x2="346.20" y2="278.40" stroke="#444" stroke-width="0.8"/>
<text x="20.00" y="294.73" font-size="7.0" font-weight="bold" text-anchor="end" fill="#111" stroke="#111" stroke-width="0.18">45<tspan font-size="5.4" dy="-0.9">°</tspan><tspan dy="0.9"> N</tspan></text>
<line x1="20.20" y1="292.03" x2="21.50" y2="292.03" stroke="#444" stroke-width="0.8"/>
<line x1="128.50" y1="292.03" x2="129.80" y2="292.03" stroke="#444" stroke-width="0.8"/>
<line x1="237.20" y1="292.03" x2="238.50" y2="292.03" stroke="#444" stroke-width="0.8"/>
<line x1="344.90" y1="292.03" x2="346.20" y2="292.03" stroke="#444" stroke-width="0.8"/>
<text x="20.00" y="308.35" font-size="7.0" font-weight="bold" text-anchor="end" fill="#111" stroke="#111" stroke-width="0.18">40<tspan font-size="5.4" dy="-0.9">°</tspan><tspan dy="0.9"> N</tspan></text>
<line x1="20.20" y1="305.65" x2="21.50" y2="305.65" stroke="#444" stroke-width="0.8"/>
<line x1="128.50" y1="305.65" x2="129.80" y2="305.65" stroke="#444" stroke-width="0.8"/>
<line x1="237.20" y1="305.65" x2="238.50" y2="305.65" stroke="#444" stroke-width="0.8"/>
<line x1="344.90" y1="305.65" x2="346.20" y2="305.65" stroke="#444" stroke-width="0.8"/>
<text x="20.00" y="321.98" font-size="7.0" font-weight="bold" text-anchor="end" fill="#111" stroke="#111" stroke-width="0.18">35<tspan font-size="5.4" dy="-0.9">°</tspan><tspan dy="0.9"> N</tspan></text>
<line x1="20.20" y1="319.28" x2="21.50" y2="319.28" stroke="#444" stroke-width="0.8"/>
<line x1="128.50" y1="319.28" x2="129.80" y2="319.28" stroke="#444" stroke-width="0.8"/>
<line x1="237.20" y1="319.28" x2="238.50" y2="319.28" stroke="#444" stroke-width="0.8"/>
<line x1="344.90" y1="319.28" x2="346.20" y2="319.28" stroke="#444" stroke-width="0.8"/>
<line x1="29.70" y1="327.00" x2="29.70" y2="328.20" stroke="#777" stroke-width="0.6"/>
<line x1="43.59" y1="327.00" x2="43.59" y2="328.20" stroke="#777" stroke-width="0.6"/>
<line x1="57.49" y1="327.00" x2="57.49" y2="328.20" stroke="#777" stroke-width="0.6"/>
<line x1="71.39" y1="327.00" x2="71.39" y2="328.20" stroke="#777" stroke-width="0.6"/>
<line x1="85.28" y1="327.00" x2="85.28" y2="328.20" stroke="#777" stroke-width="0.6"/>
<line x1="99.18" y1="327.00" x2="99.18" y2="328.20" stroke="#777" stroke-width="0.6"/>
<line x1="113.07" y1="327.00" x2="113.07" y2="328.20" stroke="#777" stroke-width="0.6"/>
<line x1="138.13" y1="327.00" x2="138.13" y2="328.20" stroke="#777" stroke-width="0.6"/>
<line x1="152.24" y1="327.00" x2="152.24" y2="328.20" stroke="#777" stroke-width="0.6"/>
<line x1="166.36" y1="327.00" x2="166.36" y2="328.20" stroke="#777" stroke-width="0.6"/>
<line x1="180.47" y1="327.00" x2="180.47" y2="328.20" stroke="#777" stroke-width="0.6"/>
<line x1="194.59" y1="327.00" x2="194.59" y2="328.20" stroke="#777" stroke-width="0.6"/>
<line x1="208.70" y1="327.00" x2="208.70" y2="328.20" stroke="#777" stroke-width="0.6"/>
<line x1="222.82" y1="327.00" x2="222.82" y2="328.20" stroke="#777" stroke-width="0.6"/>
<line x1="246.80" y1="327.00" x2="246.80" y2="328.20" stroke="#777" stroke-width="0.6"/>
<line x1="260.86" y1="327.00" x2="260.86" y2="328.20" stroke="#777" stroke-width="0.6"/>
<line x1="274.92" y1="327.00" x2="274.92" y2="328.20" stroke="#777" stroke-width="0.6"/>
<line x1="288.98" y1="327.00" x2="288.98" y2="328.20" stroke="#777" stroke-width="0.6"/>
<line x1="303.04" y1="327.00" x2="303.04" y2="328.20" stroke="#777" stroke-width="0.6"/>
<line x1="317.10" y1="327.00" x2="317.10" y2="328.20" stroke="#777" stroke-width="0.6"/>
<line x1="331.16" y1="327.00" x2="331.16" y2="328.20" stroke="#777" stroke-width="0.6"/>
<line x1="354.50" y1="327.00" x2="354.50" y2="328.20" stroke="#777" stroke-width="0.6"/>
<line x1="368.58" y1="327.00" x2="368.58" y2="328.20" stroke="#777" stroke-width="0.6"/>
<line x1="382.65" y1="327.00" x2="382.65" y2="328.20" stroke="#777" stroke-width="0.6"/>
<line x1="396.73" y1="327.00" x2="396.73" y2="328.20" stroke="#777" stroke-width="0.6"/>
<line x1="410.80" y1="327.00" x2="410.80" y2="328.20" stroke="#777" stroke-width="0.6"/>
<line x1="424.87" y1="327.00" x2="424.87" y2="328.20" stroke="#777" stroke-width="0.6"/>
<line x1="438.95" y1="327.00" x2="438.95" y2="328.20" stroke="#777" stroke-width="0.6"/>
<g transform="translate(22.10,331.50) scale(1.0130,1.0380)"><g clip-path="url(#cp5)"><rect x="-2" y="-2" width="104" height="54" fill="#fff5a5"/><g filter="url(#bl)"><ellipse cx="26.5" cy="33.0" rx="23.2" ry="8.4" fill="#c6f5ff"/><ellipse cx="36.4" cy="15.4" rx="8.8" ry="5.5" fill="#c6f5ff"/><ellipse cx="33.1" cy="35.2" rx="13.7" ry="4.8" fill="#a0e8ff"/><ellipse cx="59.6" cy="24.2" rx="7.1" ry="4.8" fill="#ffe070"/><ellipse cx="34.2" cy="19.8" rx="2.9" ry="1.8" fill="#ffa000"/><ellipse cx="81.7" cy="33.0" rx="8.8" ry="2.6" fill="#c6f5ff"/><ellipse cx="47.5" cy="9.9" rx="1.8" ry="1.1" fill="#a0e8ff"/><path d="M21.0,23.7 L35.3,25.9 L50.8,29.2 L66.2,28.6" fill="none" stroke="#fff5a5" stroke-width="2.0" stroke-linecap="round" stroke-linejoin="round"/><ellipse cx="68.4" cy="20.9" rx="6.6" ry="4.4" fill="#ffe070"/></g><g filter="url(#bl2)"><ellipse cx="26.9" cy="18.0" rx="4.4" ry="2.9" fill="#ffe070"/><ellipse cx="18.1" cy="28.1" rx="4.4" ry="2.2" fill="#ffe070"/><ellipse cx="44.8" cy="37.4" rx="2.9" ry="2.2" fill="#ffe070"/><ellipse cx="26.0" cy="17.4" rx="3.5" ry="2.2" fill="#ff5a00"/><ellipse cx="17.7" cy="27.7" rx="3.8" ry="1.8" fill="#ff5a00"/><ellipse cx="44.8" cy="37.8" rx="2.2" ry="1.8" fill="#ff5a00"/><ellipse cx="43.7" cy="8.4" rx="2.2" ry="1.3" fill="#ffe070"/><ellipse cx="41.7" cy="6.2" rx="2.2" ry="1.5" fill="#0a73ff"/></g></g><use href="#ol5"/></g><rect x="22.10" y="331.50" width="101.30" height="51.90" fill="none" stroke="#666" stroke-width="1"/>
<g transform="translate(130.40,331.50) scale(1.0290,1.0380)"><g clip-path="url(#cp5)"><rect x="-2" y="-2" width="104" height="54" fill="#fff5a5"/><g filter="url(#bl)"><ellipse cx="28.7" cy="31.9" rx="23.2" ry="8.8" fill="#c6f5ff"/><ellipse cx="28.7" cy="35.2" rx="15.5" ry="5.5" fill="#7cd3ff"/><ellipse cx="26.5" cy="39.6" rx="7.7" ry="2.0" fill="#4cbcff"/><ellipse cx="36.4" cy="15.4" rx="7.7" ry="4.0" fill="#c6f5ff"/><ellipse cx="55.2" cy="19.8" rx="9.3" ry="7.0" fill="#ffe070"/><ellipse cx="33.1" cy="20.9" rx="4.4" ry="2.2" fill="#ffa000"/><ellipse cx="80.6" cy="31.9" rx="8.8" ry="2.6" fill="#c6f5ff"/><ellipse cx="47.5" cy="9.9" rx="1.8" ry="1.1" fill="#00abff"/></g><g filter="url(#bl2)"><ellipse cx="26.9" cy="18.0" rx="4.4" ry="2.9" fill="#ffe070"/><ellipse cx="18.1" cy="28.1" rx="4.4" ry="2.2" fill="#ffe070"/><ellipse cx="44.8" cy="37.4" rx="2.9" ry="2.2" fill="#ffe070"/><ellipse cx="26.0" cy="17.4" rx="3.5" ry="2.2" fill="#ff5a00"/><ellipse cx="17.7" cy="27.7" rx="3.8" ry="1.8" fill="#ff5a00"/><ellipse cx="44.8" cy="37.8" rx="2.2" ry="1.8" fill="#ff5a00"/><ellipse cx="43.7" cy="8.4" rx="2.2" ry="1.3" fill="#ffe070"/><ellipse cx="41.7" cy="6.2" rx="2.2" ry="1.5" fill="#0a73ff"/></g></g><use href="#ol5"/></g><rect x="130.40" y="331.50" width="102.90" height="51.90" fill="none" stroke="#666" stroke-width="1"/>
<g transform="translate(239.10,331.50) scale(1.0250,1.0380)"><g clip-path="url(#cp5)"><rect x="-2" y="-2" width="104" height="54" fill="#fff5a5"/><g filter="url(#bl)"><ellipse cx="28.7" cy="32.5" rx="23.2" ry="8.8" fill="#c6f5ff"/><ellipse cx="29.8" cy="35.8" rx="15.5" ry="5.3" fill="#7cd3ff"/><ellipse cx="28.7" cy="39.6" rx="8.8" ry="2.0" fill="#4cbcff"/><ellipse cx="35.3" cy="15.4" rx="6.6" ry="3.3" fill="#c6f5ff"/><ellipse cx="55.2" cy="19.8" rx="9.3" ry="7.0" fill="#ffe070"/><ellipse cx="33.1" cy="19.3" rx="6.2" ry="3.1" fill="#ff5a00"/><ellipse cx="80.6" cy="32.5" rx="9.9" ry="3.1" fill="#c6f5ff"/><ellipse cx="47.5" cy="9.9" rx="1.8" ry="1.1" fill="#00abff"/></g><g filter="url(#bl2)"><ellipse cx="26.9" cy="18.0" rx="4.4" ry="2.9" fill="#ffe070"/><ellipse cx="18.1" cy="28.1" rx="4.4" ry="2.2" fill="#ffe070"/><ellipse cx="44.8" cy="37.4" rx="2.9" ry="2.2" fill="#ffe070"/><ellipse cx="26.0" cy="17.4" rx="3.5" ry="2.2" fill="#ff5a00"/><ellipse cx="17.7" cy="27.7" rx="3.8" ry="1.8" fill="#ff5a00"/><ellipse cx="44.8" cy="37.8" rx="2.2" ry="1.8" fill="#ff5a00"/><ellipse cx="43.7" cy="8.4" rx="2.2" ry="1.3" fill="#ffe070"/><ellipse cx="41.7" cy="6.2" rx="2.2" ry="1.5" fill="#0a73ff"/></g></g><use href="#ol5"/></g><rect x="239.10" y="331.50" width="102.50" height="51.90" fill="none" stroke="#666" stroke-width="1"/>
<g transform="translate(346.80,331.50) scale(1.0260,1.0380)"><g clip-path="url(#cp5)"><rect x="-2" y="-2" width="104" height="54" fill="#ffe070"/><g filter="url(#bl)"><ellipse cx="28.7" cy="32.5" rx="23.2" ry="8.8" fill="#c6f5ff"/><ellipse cx="29.8" cy="36.3" rx="15.5" ry="5.3" fill="#4cbcff"/><ellipse cx="28.7" cy="40.0" rx="8.8" ry="2.0" fill="#00abff"/><ellipse cx="36.4" cy="15.4" rx="6.6" ry="2.9" fill="#c6f5ff"/><ellipse cx="57.4" cy="20.9" rx="9.9" ry="7.0" fill="#ffbe28"/><ellipse cx="33.1" cy="19.3" rx="6.2" ry="3.1" fill="#ff5a00"/><ellipse cx="83.9" cy="33.0" rx="9.9" ry="3.1" fill="#c6f5ff"/><ellipse cx="47.5" cy="8.8" rx="2.4" ry="1.3" fill="#ffa000"/></g><g filter="url(#bl2)"><ellipse cx="26.9" cy="18.0" rx="4.4" ry="2.9" fill="#ffe070"/><ellipse cx="18.1" cy="28.1" rx="4.4" ry="2.2" fill="#ffe070"/><ellipse cx="44.8" cy="37.4" rx="2.9" ry="2.2" fill="#ffe070"/><ellipse cx="26.0" cy="17.4" rx="3.5" ry="2.2" fill="#ff5a00"/><ellipse cx="17.7" cy="27.7" rx="3.8" ry="1.8" fill="#ff5a00"/><ellipse cx="44.8" cy="37.8" rx="2.2" ry="1.8" fill="#ff5a00"/><ellipse cx="43.7" cy="8.4" rx="2.2" ry="1.3" fill="#ffe070"/><ellipse cx="41.7" cy="6.2" rx="2.2" ry="1.5" fill="#0a73ff"/></g></g><use href="#ol5"/></g><rect x="346.80" y="331.50" width="102.60" height="51.90" fill="none" stroke="#666" stroke-width="1"/>
<text x="20.60" y="337.50" font-size="7.0" font-weight="bold" text-anchor="end" fill="#111" stroke="#111" stroke-width="0.18">50<tspan font-size="5.4" dy="-0.9">°</tspan><tspan dy="0.9"> N</tspan></text>
<line x1="20.80" y1="334.80" x2="22.10" y2="334.80" stroke="#444" stroke-width="0.8"/>
<line x1="129.10" y1="334.80" x2="130.40" y2="334.80" stroke="#444" stroke-width="0.8"/>
<line x1="237.80" y1="334.80" x2="239.10" y2="334.80" stroke="#444" stroke-width="0.8"/>
<line x1="345.50" y1="334.80" x2="346.80" y2="334.80" stroke="#444" stroke-width="0.8"/>
<text x="20.60" y="351.12" font-size="7.0" font-weight="bold" text-anchor="end" fill="#111" stroke="#111" stroke-width="0.18">45<tspan font-size="5.4" dy="-0.9">°</tspan><tspan dy="0.9"> N</tspan></text>
<line x1="20.80" y1="348.43" x2="22.10" y2="348.43" stroke="#444" stroke-width="0.8"/>
<line x1="129.10" y1="348.43" x2="130.40" y2="348.43" stroke="#444" stroke-width="0.8"/>
<line x1="237.80" y1="348.43" x2="239.10" y2="348.43" stroke="#444" stroke-width="0.8"/>
<line x1="345.50" y1="348.43" x2="346.80" y2="348.43" stroke="#444" stroke-width="0.8"/>
<text x="20.60" y="364.75" font-size="7.0" font-weight="bold" text-anchor="end" fill="#111" stroke="#111" stroke-width="0.18">40<tspan font-size="5.4" dy="-0.9">°</tspan><tspan dy="0.9"> N</tspan></text>
<line x1="20.80" y1="362.05" x2="22.10" y2="362.05" stroke="#444" stroke-width="0.8"/>
<line x1="129.10" y1="362.05" x2="130.40" y2="362.05" stroke="#444" stroke-width="0.8"/>
<line x1="237.80" y1="362.05" x2="239.10" y2="362.05" stroke="#444" stroke-width="0.8"/>
<line x1="345.50" y1="362.05" x2="346.80" y2="362.05" stroke="#444" stroke-width="0.8"/>
<text x="20.60" y="378.38" font-size="7.0" font-weight="bold" text-anchor="end" fill="#111" stroke="#111" stroke-width="0.18">35<tspan font-size="5.4" dy="-0.9">°</tspan><tspan dy="0.9"> N</tspan></text>
<line x1="20.80" y1="375.68" x2="22.10" y2="375.68" stroke="#444" stroke-width="0.8"/>
<line x1="129.10" y1="375.68" x2="130.40" y2="375.68" stroke="#444" stroke-width="0.8"/>
<line x1="237.80" y1="375.68" x2="239.10" y2="375.68" stroke="#444" stroke-width="0.8"/>
<line x1="345.50" y1="375.68" x2="346.80" y2="375.68" stroke="#444" stroke-width="0.8"/>
<line x1="30.30" y1="383.40" x2="30.30" y2="384.60" stroke="#777" stroke-width="0.6"/>
<line x1="44.19" y1="383.40" x2="44.19" y2="384.60" stroke="#777" stroke-width="0.6"/>
<line x1="58.09" y1="383.40" x2="58.09" y2="384.60" stroke="#777" stroke-width="0.6"/>
<line x1="71.99" y1="383.40" x2="71.99" y2="384.60" stroke="#777" stroke-width="0.6"/>
<line x1="85.88" y1="383.40" x2="85.88" y2="384.60" stroke="#777" stroke-width="0.6"/>
<line x1="99.78" y1="383.40" x2="99.78" y2="384.60" stroke="#777" stroke-width="0.6"/>
<line x1="113.67" y1="383.40" x2="113.67" y2="384.60" stroke="#777" stroke-width="0.6"/>
<line x1="138.73" y1="383.40" x2="138.73" y2="384.60" stroke="#777" stroke-width="0.6"/>
<line x1="152.84" y1="383.40" x2="152.84" y2="384.60" stroke="#777" stroke-width="0.6"/>
<line x1="166.96" y1="383.40" x2="166.96" y2="384.60" stroke="#777" stroke-width="0.6"/>
<line x1="181.07" y1="383.40" x2="181.07" y2="384.60" stroke="#777" stroke-width="0.6"/>
<line x1="195.19" y1="383.40" x2="195.19" y2="384.60" stroke="#777" stroke-width="0.6"/>
<line x1="209.30" y1="383.40" x2="209.30" y2="384.60" stroke="#777" stroke-width="0.6"/>
<line x1="223.42" y1="383.40" x2="223.42" y2="384.60" stroke="#777" stroke-width="0.6"/>
<line x1="247.40" y1="383.40" x2="247.40" y2="384.60" stroke="#777" stroke-width="0.6"/>
<line x1="261.46" y1="383.40" x2="261.46" y2="384.60" stroke="#777" stroke-width="0.6"/>
<line x1="275.52" y1="383.40" x2="275.52" y2="384.60" stroke="#777" stroke-width="0.6"/>
<line x1="289.58" y1="383.40" x2="289.58" y2="384.60" stroke="#777" stroke-width="0.6"/>
<line x1="303.64" y1="383.40" x2="303.64" y2="384.60" stroke="#777" stroke-width="0.6"/>
<line x1="317.70" y1="383.40" x2="317.70" y2="384.60" stroke="#777" stroke-width="0.6"/>
<line x1="331.76" y1="383.40" x2="331.76" y2="384.60" stroke="#777" stroke-width="0.6"/>
<line x1="355.10" y1="383.40" x2="355.10" y2="384.60" stroke="#777" stroke-width="0.6"/>
<line x1="369.18" y1="383.40" x2="369.18" y2="384.60" stroke="#777" stroke-width="0.6"/>
<line x1="383.25" y1="383.40" x2="383.25" y2="384.60" stroke="#777" stroke-width="0.6"/>
<line x1="397.33" y1="383.40" x2="397.33" y2="384.60" stroke="#777" stroke-width="0.6"/>
<line x1="411.40" y1="383.40" x2="411.40" y2="384.60" stroke="#777" stroke-width="0.6"/>
<line x1="425.47" y1="383.40" x2="425.47" y2="384.60" stroke="#777" stroke-width="0.6"/>
<line x1="439.55" y1="383.40" x2="439.55" y2="384.60" stroke="#777" stroke-width="0.6"/>
<g transform="translate(22.40,387.10) scale(1.0130,1.0440)"><g clip-path="url(#cp6)"><rect x="-2" y="-2" width="104" height="54" fill="#fff5a5"/><g filter="url(#bl)"><ellipse cx="53.0" cy="19.8" rx="13.7" ry="9.2" fill="#ffe070"/><ellipse cx="24.3" cy="33.0" rx="19.9" ry="7.5" fill="#c6f5ff"/><ellipse cx="33.1" cy="19.3" rx="5.3" ry="2.9" fill="#ff5a00"/><ellipse cx="81.7" cy="31.9" rx="9.9" ry="3.7" fill="#c6f5ff"/><ellipse cx="44.2" cy="13.2" rx="4.4" ry="2.6" fill="#ffbe28"/><ellipse cx="47.5" cy="10.3" rx="1.8" ry="1.1" fill="#a0e8ff"/></g><g filter="url(#bl2)"><ellipse cx="26.9" cy="18.0" rx="4.4" ry="2.9" fill="#ffe070"/><ellipse cx="18.1" cy="28.1" rx="4.4" ry="2.2" fill="#ffe070"/><ellipse cx="44.8" cy="37.4" rx="2.9" ry="2.2" fill="#ffe070"/><ellipse cx="26.0" cy="17.4" rx="3.5" ry="2.2" fill="#ff5a00"/><ellipse cx="17.7" cy="27.7" rx="3.8" ry="1.8" fill="#ff5a00"/><ellipse cx="44.8" cy="37.8" rx="2.2" ry="1.8" fill="#ff5a00"/><ellipse cx="43.7" cy="8.4" rx="2.2" ry="1.3" fill="#ffe070"/><ellipse cx="41.7" cy="6.2" rx="2.2" ry="1.5" fill="#0a73ff"/></g></g><use href="#ol6"/></g><rect x="22.40" y="387.10" width="101.30" height="52.20" fill="none" stroke="#666" stroke-width="1"/>
<g transform="translate(130.70,387.10) scale(1.0290,1.0440)"><g clip-path="url(#cp6)"><rect x="-2" y="-2" width="104" height="54" fill="#fff5a5"/><g filter="url(#bl)"><ellipse cx="50.8" cy="18.7" rx="16.6" ry="9.2" fill="#ffe070"/><ellipse cx="57.4" cy="22.0" rx="6.6" ry="4.4" fill="#ffbe28"/><ellipse cx="26.5" cy="33.0" rx="22.1" ry="7.5" fill="#c6f5ff"/><ellipse cx="28.7" cy="36.3" rx="15.5" ry="4.8" fill="#7cd3ff"/><ellipse cx="24.3" cy="39.6" rx="7.7" ry="1.8" fill="#4cbcff"/><ellipse cx="33.1" cy="19.3" rx="6.2" ry="3.1" fill="#ff5a00"/><ellipse cx="61.8" cy="23.1" rx="3.5" ry="2.9" fill="#ffa000"/><ellipse cx="81.7" cy="31.9" rx="11.0" ry="3.1" fill="#c6f5ff"/><ellipse cx="47.5" cy="9.9" rx="1.8" ry="1.1" fill="#4cbcff"/></g><g filter="url(#bl2)"><ellipse cx="26.9" cy="18.0" rx="4.4" ry="2.9" fill="#ffe070"/><ellipse cx="18.1" cy="28.1" rx="4.4" ry="2.2" fill="#ffe070"/><ellipse cx="44.8" cy="37.4" rx="2.9" ry="2.2" fill="#ffe070"/><ellipse cx="26.0" cy="17.4" rx="3.5" ry="2.2" fill="#ff5a00"/><ellipse cx="17.7" cy="27.7" rx="3.8" ry="1.8" fill="#ff5a00"/><ellipse cx="44.8" cy="37.8" rx="2.2" ry="1.8" fill="#ff5a00"/><ellipse cx="43.7" cy="8.4" rx="2.2" ry="1.3" fill="#ffe070"/><ellipse cx="41.7" cy="6.2" rx="2.2" ry="1.5" fill="#0a73ff"/></g></g><use href="#ol6"/></g><rect x="130.70" y="387.10" width="102.90" height="52.20" fill="none" stroke="#666" stroke-width="1"/>
<g transform="translate(239.40,387.10) scale(1.0250,1.0440)"><g clip-path="url(#cp6)"><rect x="-2" y="-2" width="104" height="54" fill="#fff5a5"/><g filter="url(#bl)"><ellipse cx="53.0" cy="18.7" rx="13.7" ry="9.2" fill="#ffe070"/><ellipse cx="50.8" cy="15.4" rx="4.4" ry="3.3" fill="#ffbe28"/><path d="M9.9,31.9 L24.3,36.7 L41.9,35.6 L59.6,31.2 L75.1,32.3 L92.3,30.3" fill="none" stroke="#a0e8ff" stroke-width="13.2" stroke-linecap="round" stroke-linejoin="round"/><path d="M9.9,31.9 L24.3,36.7 L41.9,35.6 L59.6,31.2 L75.1,32.3 L92.3,30.3" fill="none" stroke="#4cbcff" stroke-width="6.6" stroke-linecap="round" stroke-linejoin="round"/><ellipse cx="33.1" cy="19.3" rx="7.1" ry="3.1" fill="#ff5a00"/><ellipse cx="72.8" cy="25.3" rx="9.3" ry="1.8" fill="#ffe070"/><ellipse cx="47.5" cy="9.9" rx="1.8" ry="1.1" fill="#00abff"/><ellipse cx="38.6" cy="16.5" rx="3.3" ry="2.2" fill="#c6f5ff"/></g><g filter="url(#bl2)"><ellipse cx="26.9" cy="18.0" rx="4.4" ry="2.9" fill="#ffe070"/><ellipse cx="18.1" cy="28.1" rx="4.4" ry="2.2" fill="#ffe070"/><ellipse cx="44.8" cy="37.4" rx="2.9" ry="2.2" fill="#ffe070"/><ellipse cx="26.0" cy="17.4" rx="3.5" ry="2.2" fill="#ff5a00"/><ellipse cx="17.7" cy="27.7" rx="3.8" ry="1.8" fill="#ff5a00"/><ellipse cx="44.8" cy="37.8" rx="2.2" ry="1.8" fill="#ff5a00"/><ellipse cx="43.7" cy="8.4" rx="2.2" ry="1.3" fill="#ffe070"/><ellipse cx="41.7" cy="6.2" rx="2.2" ry="1.5" fill="#0a73ff"/></g></g><use href="#ol6"/></g><rect x="239.40" y="387.10" width="102.50" height="52.20" fill="none" stroke="#666" stroke-width="1"/>
<g transform="translate(347.10,387.10) scale(1.0260,1.0440)"><g clip-path="url(#cp6)"><rect x="-2" y="-2" width="104" height="54" fill="#ffe070"/><g filter="url(#bl)"><ellipse cx="55.2" cy="19.8" rx="13.7" ry="8.1" fill="#ffbe28"/><path d="M11.0,28.1 L28.7,28.1 L50.8,26.4" fill="none" stroke="#c6f5ff" stroke-width="4.9" stroke-linecap="round" stroke-linejoin="round"/><path d="M9.9,31.9 L24.3,36.7 L41.9,35.6 L59.6,31.2 L75.1,32.3 L92.3,30.3" fill="none" stroke="#a0e8ff" stroke-width="12.1" stroke-linecap="round" stroke-linejoin="round"/><path d="M13.2,33.0 L24.3,37.4 L41.9,36.3 L55.2,32.5" fill="none" stroke="#4cbcff" stroke-width="5.7" stroke-linecap="round" stroke-linejoin="round"/><ellipse cx="33.1" cy="19.3" rx="7.1" ry="3.1" fill="#ff5a00"/><ellipse cx="37.5" cy="15.4" rx="4.4" ry="2.2" fill="#c6f5ff"/><ellipse cx="66.2" cy="24.2" rx="4.4" ry="2.6" fill="#ffa000"/></g><g filter="url(#bl2)"><ellipse cx="26.9" cy="18.0" rx="4.4" ry="2.9" fill="#ffe070"/><ellipse cx="18.1" cy="28.1" rx="4.4" ry="2.2" fill="#ffe070"/><ellipse cx="44.8" cy="37.4" rx="2.9" ry="2.2" fill="#ffe070"/><ellipse cx="26.0" cy="17.4" rx="3.5" ry="2.2" fill="#ff5a00"/><ellipse cx="17.7" cy="27.7" rx="3.8" ry="1.8" fill="#ff5a00"/><ellipse cx="44.8" cy="37.8" rx="2.2" ry="1.8" fill="#ff5a00"/><ellipse cx="43.7" cy="8.4" rx="2.2" ry="1.3" fill="#ffe070"/><ellipse cx="41.7" cy="6.2" rx="2.2" ry="1.5" fill="#0a73ff"/></g></g><use href="#ol6"/></g><rect x="347.10" y="387.10" width="102.60" height="52.20" fill="none" stroke="#666" stroke-width="1"/>
<text x="20.90" y="393.10" font-size="7.0" font-weight="bold" text-anchor="end" fill="#111" stroke="#111" stroke-width="0.18">50<tspan font-size="5.4" dy="-0.9">°</tspan><tspan dy="0.9"> N</tspan></text>
<line x1="21.10" y1="390.40" x2="22.40" y2="390.40" stroke="#444" stroke-width="0.8"/>
<line x1="129.40" y1="390.40" x2="130.70" y2="390.40" stroke="#444" stroke-width="0.8"/>
<line x1="238.10" y1="390.40" x2="239.40" y2="390.40" stroke="#444" stroke-width="0.8"/>
<line x1="345.80" y1="390.40" x2="347.10" y2="390.40" stroke="#444" stroke-width="0.8"/>
<text x="20.90" y="406.73" font-size="7.0" font-weight="bold" text-anchor="end" fill="#111" stroke="#111" stroke-width="0.18">45<tspan font-size="5.4" dy="-0.9">°</tspan><tspan dy="0.9"> N</tspan></text>
<line x1="21.10" y1="404.03" x2="22.40" y2="404.03" stroke="#444" stroke-width="0.8"/>
<line x1="129.40" y1="404.03" x2="130.70" y2="404.03" stroke="#444" stroke-width="0.8"/>
<line x1="238.10" y1="404.03" x2="239.40" y2="404.03" stroke="#444" stroke-width="0.8"/>
<line x1="345.80" y1="404.03" x2="347.10" y2="404.03" stroke="#444" stroke-width="0.8"/>
<text x="20.90" y="420.35" font-size="7.0" font-weight="bold" text-anchor="end" fill="#111" stroke="#111" stroke-width="0.18">40<tspan font-size="5.4" dy="-0.9">°</tspan><tspan dy="0.9"> N</tspan></text>
<line x1="21.10" y1="417.65" x2="22.40" y2="417.65" stroke="#444" stroke-width="0.8"/>
<line x1="129.40" y1="417.65" x2="130.70" y2="417.65" stroke="#444" stroke-width="0.8"/>
<line x1="238.10" y1="417.65" x2="239.40" y2="417.65" stroke="#444" stroke-width="0.8"/>
<line x1="345.80" y1="417.65" x2="347.10" y2="417.65" stroke="#444" stroke-width="0.8"/>
<text x="20.90" y="433.98" font-size="7.0" font-weight="bold" text-anchor="end" fill="#111" stroke="#111" stroke-width="0.18">35<tspan font-size="5.4" dy="-0.9">°</tspan><tspan dy="0.9"> N</tspan></text>
<line x1="21.10" y1="431.28" x2="22.40" y2="431.28" stroke="#444" stroke-width="0.8"/>
<line x1="129.40" y1="431.28" x2="130.70" y2="431.28" stroke="#444" stroke-width="0.8"/>
<line x1="238.10" y1="431.28" x2="239.40" y2="431.28" stroke="#444" stroke-width="0.8"/>
<line x1="345.80" y1="431.28" x2="347.10" y2="431.28" stroke="#444" stroke-width="0.8"/>
<line x1="30.60" y1="439.30" x2="30.60" y2="440.50" stroke="#777" stroke-width="0.6"/>
<line x1="44.49" y1="439.30" x2="44.49" y2="440.50" stroke="#777" stroke-width="0.6"/>
<line x1="58.39" y1="439.30" x2="58.39" y2="440.50" stroke="#777" stroke-width="0.6"/>
<line x1="72.29" y1="439.30" x2="72.29" y2="440.50" stroke="#777" stroke-width="0.6"/>
<line x1="86.18" y1="439.30" x2="86.18" y2="440.50" stroke="#777" stroke-width="0.6"/>
<line x1="100.08" y1="439.30" x2="100.08" y2="440.50" stroke="#777" stroke-width="0.6"/>
<line x1="113.97" y1="439.30" x2="113.97" y2="440.50" stroke="#777" stroke-width="0.6"/>
<line x1="139.03" y1="439.30" x2="139.03" y2="440.50" stroke="#777" stroke-width="0.6"/>
<line x1="153.14" y1="439.30" x2="153.14" y2="440.50" stroke="#777" stroke-width="0.6"/>
<line x1="167.26" y1="439.30" x2="167.26" y2="440.50" stroke="#777" stroke-width="0.6"/>
<line x1="181.37" y1="439.30" x2="181.37" y2="440.50" stroke="#777" stroke-width="0.6"/>
<line x1="195.49" y1="439.30" x2="195.49" y2="440.50" stroke="#777" stroke-width="0.6"/>
<line x1="209.60" y1="439.30" x2="209.60" y2="440.50" stroke="#777" stroke-width="0.6"/>
<line x1="223.72" y1="439.30" x2="223.72" y2="440.50" stroke="#777" stroke-width="0.6"/>
<line x1="247.70" y1="439.30" x2="247.70" y2="440.50" stroke="#777" stroke-width="0.6"/>
<line x1="261.76" y1="439.30" x2="261.76" y2="440.50" stroke="#777" stroke-width="0.6"/>
<line x1="275.82" y1="439.30" x2="275.82" y2="440.50" stroke="#777" stroke-width="0.6"/>
<line x1="289.88" y1="439.30" x2="289.88" y2="440.50" stroke="#777" stroke-width="0.6"/>
<line x1="303.94" y1="439.30" x2="303.94" y2="440.50" stroke="#777" stroke-width="0.6"/>
<line x1="318.00" y1="439.30" x2="318.00" y2="440.50" stroke="#777" stroke-width="0.6"/>
<line x1="332.06" y1="439.30" x2="332.06" y2="440.50" stroke="#777" stroke-width="0.6"/>
<line x1="355.40" y1="439.30" x2="355.40" y2="440.50" stroke="#777" stroke-width="0.6"/>
<line x1="369.48" y1="439.30" x2="369.48" y2="440.50" stroke="#777" stroke-width="0.6"/>
<line x1="383.55" y1="439.30" x2="383.55" y2="440.50" stroke="#777" stroke-width="0.6"/>
<line x1="397.63" y1="439.30" x2="397.63" y2="440.50" stroke="#777" stroke-width="0.6"/>
<line x1="411.70" y1="439.30" x2="411.70" y2="440.50" stroke="#777" stroke-width="0.6"/>
<line x1="425.77" y1="439.30" x2="425.77" y2="440.50" stroke="#777" stroke-width="0.6"/>
<line x1="439.85" y1="439.30" x2="439.85" y2="440.50" stroke="#777" stroke-width="0.6"/>
<g transform="translate(22.70,443.20) scale(1.0130,1.0160)"><g clip-path="url(#cp7)"><rect x="-2" y="-2" width="104" height="54" fill="#ffe070"/><g filter="url(#bl)"><ellipse cx="50.8" cy="17.6" rx="16.6" ry="9.2" fill="#ffbe28"/><ellipse cx="26.5" cy="31.9" rx="21.0" ry="7.9" fill="#c6f5ff"/><ellipse cx="33.1" cy="19.3" rx="6.2" ry="3.1" fill="#ff5a00"/><ellipse cx="45.3" cy="12.1" rx="4.9" ry="2.9" fill="#ffa000"/><ellipse cx="62.9" cy="24.2" rx="3.5" ry="2.4" fill="#ffa000"/><ellipse cx="83.9" cy="32.5" rx="8.8" ry="2.6" fill="#c6f5ff"/></g><g filter="url(#bl2)"><ellipse cx="26.9" cy="18.0" rx="4.4" ry="2.9" fill="#ffe070"/><ellipse cx="18.1" cy="28.1" rx="4.4" ry="2.2" fill="#ffe070"/><ellipse cx="44.8" cy="37.4" rx="2.9" ry="2.2" fill="#ffe070"/><ellipse cx="26.0" cy="17.4" rx="3.5" ry="2.2" fill="#ff5a00"/><ellipse cx="17.7" cy="27.7" rx="3.8" ry="1.8" fill="#ff5a00"/><ellipse cx="44.8" cy="37.8" rx="2.2" ry="1.8" fill="#ff5a00"/><ellipse cx="43.7" cy="8.4" rx="2.2" ry="1.3" fill="#ffe070"/><ellipse cx="41.7" cy="6.2" rx="2.2" ry="1.5" fill="#0a73ff"/></g></g><use href="#ol7"/></g><rect x="22.70" y="443.20" width="101.30" height="50.80" fill="none" stroke="#666" stroke-width="1"/>
<g transform="translate(131.00,443.20) scale(1.0290,1.0160)"><g clip-path="url(#cp7)"><rect x="-2" y="-2" width="104" height="54" fill="#ffe070"/><g filter="url(#bl)"><ellipse cx="50.8" cy="18.7" rx="16.6" ry="9.2" fill="#ffbe28"/><ellipse cx="46.4" cy="13.2" rx="5.5" ry="3.3" fill="#ffa000"/><ellipse cx="61.8" cy="23.1" rx="4.4" ry="3.3" fill="#ffa000"/><ellipse cx="33.1" cy="19.3" rx="8.8" ry="3.5" fill="#ff5a00"/><ellipse cx="28.7" cy="33.0" rx="23.2" ry="7.5" fill="#c6f5ff"/><ellipse cx="28.7" cy="37.4" rx="12.1" ry="3.7" fill="#7cd3ff"/><ellipse cx="81.7" cy="32.5" rx="9.9" ry="2.6" fill="#c6f5ff"/><ellipse cx="46.4" cy="8.8" rx="1.8" ry="1.1" fill="#4cbcff"/></g><g filter="url(#bl2)"><ellipse cx="26.9" cy="18.0" rx="4.4" ry="2.9" fill="#ffe070"/><ellipse cx="18.1" cy="28.1" rx="4.4" ry="2.2" fill="#ffe070"/><ellipse cx="44.8" cy="37.4" rx="2.9" ry="2.2" fill="#ffe070"/><ellipse cx="26.0" cy="17.4" rx="3.5" ry="2.2" fill="#ff5a00"/><ellipse cx="17.7" cy="27.7" rx="3.8" ry="1.8" fill="#ff5a00"/><ellipse cx="44.8" cy="37.8" rx="2.2" ry="1.8" fill="#ff5a00"/><ellipse cx="43.7" cy="8.4" rx="2.2" ry="1.3" fill="#ffe070"/><ellipse cx="41.7" cy="6.2" rx="2.2" ry="1.5" fill="#0a73ff"/></g></g><use href="#ol7"/></g><rect x="131.00" y="443.20" width="102.90" height="50.80" fill="none" stroke="#666" stroke-width="1"/>
<g transform="translate(239.70,443.20) scale(1.0250,1.0160)"><g clip-path="url(#cp7)"><rect x="-2" y="-2" width="104" height="54" fill="#ffe070"/><g filter="url(#bl)"><ellipse cx="53.0" cy="17.6" rx="13.7" ry="9.2" fill="#ffbe28"/><ellipse cx="33.1" cy="19.3" rx="8.8" ry="3.5" fill="#ff5a00"/><ellipse cx="46.4" cy="13.2" rx="4.4" ry="2.6" fill="#ffa000"/><path d="M9.9,31.9 L24.3,36.7 L41.9,35.6 L59.6,31.2 L75.1,32.3 L92.3,30.3" fill="none" stroke="#7cd3ff" stroke-width="16.6" stroke-linecap="round" stroke-linejoin="round"/><path d="M9.9,31.9 L24.3,36.7 L41.9,35.6 L59.6,31.2 L75.1,32.3 L92.3,30.3" fill="none" stroke="#00abff" stroke-width="8.8" stroke-linecap="round" stroke-linejoin="round"/><path d="M13.2,27.5 L33.1,28.1 L50.8,25.9" fill="none" stroke="#a0e8ff" stroke-width="4.0" stroke-linecap="round" stroke-linejoin="round"/><ellipse cx="38.6" cy="15.8" rx="3.3" ry="2.2" fill="#c6f5ff"/></g><g filter="url(#bl2)"><ellipse cx="26.9" cy="18.0" rx="4.4" ry="2.9" fill="#ffe070"/><ellipse cx="18.1" cy="28.1" rx="4.4" ry="2.2" fill="#ffe070"/><ellipse cx="44.8" cy="37.4" rx="2.9" ry="2.2" fill="#ffe070"/><ellipse cx="26.0" cy="17.4" rx="3.5" ry="2.2" fill="#ff5a00"/><ellipse cx="17.7" cy="27.7" rx="3.8" ry="1.8" fill="#ff5a00"/><ellipse cx="44.8" cy="37.8" rx="2.2" ry="1.8" fill="#ff5a00"/><ellipse cx="43.7" cy="8.4" rx="2.2" ry="1.3" fill="#ffe070"/><ellipse cx="41.7" cy="6.2" rx="2.2" ry="1.5" fill="#0a73ff"/></g></g><use href="#ol7"/></g><rect x="239.70" y="443.20" width="102.50" height="50.80" fill="none" stroke="#666" stroke-width="1"/>
<g transform="translate(347.40,443.20) scale(1.0260,1.0160)"><g clip-path="url(#cp7)"><rect x="-2" y="-2" width="104" height="54" fill="#ffa000"/><g filter="url(#bl)"><ellipse cx="55.2" cy="18.7" rx="13.2" ry="7.7" fill="#ffbe28"/><ellipse cx="35.3" cy="19.3" rx="10.6" ry="3.5" fill="#ff5a00"/><ellipse cx="53.0" cy="15.4" rx="4.4" ry="2.6" fill="#ff5a00"/><path d="M11.0,28.1 L28.7,28.1 L50.8,26.4" fill="none" stroke="#c6f5ff" stroke-width="5.7" stroke-linecap="round" stroke-linejoin="round"/><path d="M9.9,31.9 L24.3,36.7 L41.9,35.6 L59.6,31.2 L75.1,32.3 L92.3,30.3" fill="none" stroke="#7cd3ff" stroke-width="11.0" stroke-linecap="round" stroke-linejoin="round"/><path d="M13.2,33.0 L24.3,37.4 L41.9,36.3 L53.0,33.0" fill="none" stroke="#00abff" stroke-width="5.7" stroke-linecap="round" stroke-linejoin="round"/><path d="M59.6,31.2 L75.1,32.3 L92.3,30.3" fill="none" stroke="#a0e8ff" stroke-width="4.9" stroke-linecap="round" stroke-linejoin="round"/><ellipse cx="77.3" cy="25.9" rx="13.7" ry="2.6" fill="#ffbe28"/><ellipse cx="39.7" cy="14.3" rx="2.6" ry="1.8" fill="#a0e8ff"/><ellipse cx="33.1" cy="13.6" rx="1.8" ry="1.3" fill="#c6f5ff"/></g><g filter="url(#bl2)"><ellipse cx="26.9" cy="18.0" rx="4.4" ry="2.9" fill="#ffe070"/><ellipse cx="18.1" cy="28.1" rx="4.4" ry="2.2" fill="#ffe070"/><ellipse cx="44.8" cy="37.4" rx="2.9" ry="2.2" fill="#ffe070"/><ellipse cx="26.0" cy="17.4" rx="3.5" ry="2.2" fill="#ff5a00"/><ellipse cx="17.7" cy="27.7" rx="3.8" ry="1.8" fill="#ff5a00"/><ellipse cx="44.8" cy="37.8" rx="2.2" ry="1.8" fill="#ff5a00"/><ellipse cx="43.7" cy="8.4" rx="2.2" ry="1.3" fill="#ffe070"/><ellipse cx="41.7" cy="6.2" rx="2.2" ry="1.5" fill="#0a73ff"/></g></g><use href="#ol7"/></g><rect x="347.40" y="443.20" width="102.60" height="50.80" fill="none" stroke="#666" stroke-width="1"/>
<text x="21.20" y="449.20" font-size="7.0" font-weight="bold" text-anchor="end" fill="#111" stroke="#111" stroke-width="0.18">50<tspan font-size="5.4" dy="-0.9">°</tspan><tspan dy="0.9"> N</tspan></text>
<line x1="21.40" y1="446.50" x2="22.70" y2="446.50" stroke="#444" stroke-width="0.8"/>
<line x1="129.70" y1="446.50" x2="131.00" y2="446.50" stroke="#444" stroke-width="0.8"/>
<line x1="238.40" y1="446.50" x2="239.70" y2="446.50" stroke="#444" stroke-width="0.8"/>
<line x1="346.10" y1="446.50" x2="347.40" y2="446.50" stroke="#444" stroke-width="0.8"/>
<text x="21.20" y="462.82" font-size="7.0" font-weight="bold" text-anchor="end" fill="#111" stroke="#111" stroke-width="0.18">45<tspan font-size="5.4" dy="-0.9">°</tspan><tspan dy="0.9"> N</tspan></text>
<line x1="21.40" y1="460.12" x2="22.70" y2="460.12" stroke="#444" stroke-width="0.8"/>
<line x1="129.70" y1="460.12" x2="131.00" y2="460.12" stroke="#444" stroke-width="0.8"/>
<line x1="238.40" y1="460.12" x2="239.70" y2="460.12" stroke="#444" stroke-width="0.8"/>
<line x1="346.10" y1="460.12" x2="347.40" y2="460.12" stroke="#444" stroke-width="0.8"/>
<text x="21.20" y="476.45" font-size="7.0" font-weight="bold" text-anchor="end" fill="#111" stroke="#111" stroke-width="0.18">40<tspan font-size="5.4" dy="-0.9">°</tspan><tspan dy="0.9"> N</tspan></text>
<line x1="21.40" y1="473.75" x2="22.70" y2="473.75" stroke="#444" stroke-width="0.8"/>
<line x1="129.70" y1="473.75" x2="131.00" y2="473.75" stroke="#444" stroke-width="0.8"/>
<line x1="238.40" y1="473.75" x2="239.70" y2="473.75" stroke="#444" stroke-width="0.8"/>
<line x1="346.10" y1="473.75" x2="347.40" y2="473.75" stroke="#444" stroke-width="0.8"/>
<text x="21.20" y="490.07" font-size="7.0" font-weight="bold" text-anchor="end" fill="#111" stroke="#111" stroke-width="0.18">35<tspan font-size="5.4" dy="-0.9">°</tspan><tspan dy="0.9"> N</tspan></text>
<line x1="21.40" y1="487.38" x2="22.70" y2="487.38" stroke="#444" stroke-width="0.8"/>
<line x1="129.70" y1="487.38" x2="131.00" y2="487.38" stroke="#444" stroke-width="0.8"/>
<line x1="238.40" y1="487.38" x2="239.70" y2="487.38" stroke="#444" stroke-width="0.8"/>
<line x1="346.10" y1="487.38" x2="347.40" y2="487.38" stroke="#444" stroke-width="0.8"/>
<line x1="30.90" y1="494.00" x2="30.90" y2="495.20" stroke="#777" stroke-width="0.6"/>
<line x1="44.79" y1="494.00" x2="44.79" y2="495.20" stroke="#777" stroke-width="0.6"/>
<line x1="58.69" y1="494.00" x2="58.69" y2="495.20" stroke="#777" stroke-width="0.6"/>
<line x1="72.59" y1="494.00" x2="72.59" y2="495.20" stroke="#777" stroke-width="0.6"/>
<line x1="86.48" y1="494.00" x2="86.48" y2="495.20" stroke="#777" stroke-width="0.6"/>
<line x1="100.38" y1="494.00" x2="100.38" y2="495.20" stroke="#777" stroke-width="0.6"/>
<line x1="114.27" y1="494.00" x2="114.27" y2="495.20" stroke="#777" stroke-width="0.6"/>
<line x1="139.33" y1="494.00" x2="139.33" y2="495.20" stroke="#777" stroke-width="0.6"/>
<line x1="153.44" y1="494.00" x2="153.44" y2="495.20" stroke="#777" stroke-width="0.6"/>
<line x1="167.56" y1="494.00" x2="167.56" y2="495.20" stroke="#777" stroke-width="0.6"/>
<line x1="181.67" y1="494.00" x2="181.67" y2="495.20" stroke="#777" stroke-width="0.6"/>
<line x1="195.79" y1="494.00" x2="195.79" y2="495.20" stroke="#777" stroke-width="0.6"/>
<line x1="209.90" y1="494.00" x2="209.90" y2="495.20" stroke="#777" stroke-width="0.6"/>
<line x1="224.02" y1="494.00" x2="224.02" y2="495.20" stroke="#777" stroke-width="0.6"/>
<line x1="248.00" y1="494.00" x2="248.00" y2="495.20" stroke="#777" stroke-width="0.6"/>
<line x1="262.06" y1="494.00" x2="262.06" y2="495.20" stroke="#777" stroke-width="0.6"/>
<line x1="276.12" y1="494.00" x2="276.12" y2="495.20" stroke="#777" stroke-width="0.6"/>
<line x1="290.18" y1="494.00" x2="290.18" y2="495.20" stroke="#777" stroke-width="0.6"/>
<line x1="304.24" y1="494.00" x2="304.24" y2="495.20" stroke="#777" stroke-width="0.6"/>
<line x1="318.30" y1="494.00" x2="318.30" y2="495.20" stroke="#777" stroke-width="0.6"/>
<line x1="332.36" y1="494.00" x2="332.36" y2="495.20" stroke="#777" stroke-width="0.6"/>
<line x1="355.70" y1="494.00" x2="355.70" y2="495.20" stroke="#777" stroke-width="0.6"/>
<line x1="369.78" y1="494.00" x2="369.78" y2="495.20" stroke="#777" stroke-width="0.6"/>
<line x1="383.85" y1="494.00" x2="383.85" y2="495.20" stroke="#777" stroke-width="0.6"/>
<line x1="397.93" y1="494.00" x2="397.93" y2="495.20" stroke="#777" stroke-width="0.6"/>
<line x1="412.00" y1="494.00" x2="412.00" y2="495.20" stroke="#777" stroke-width="0.6"/>
<line x1="426.07" y1="494.00" x2="426.07" y2="495.20" stroke="#777" stroke-width="0.6"/>
<line x1="440.15" y1="494.00" x2="440.15" y2="495.20" stroke="#777" stroke-width="0.6"/>
<text x="30.90" y="501.80" font-size="7.3" letter-spacing="-0.2" font-weight="bold" text-anchor="middle" fill="#111" stroke="#111" stroke-width="0.18">75<tspan font-size="5.6" dy="-0.4">°</tspan><tspan dy="0.4"> E</tspan></text>
<text x="58.69" y="501.80" font-size="7.3" letter-spacing="-0.2" font-weight="bold" text-anchor="middle" fill="#111" stroke="#111" stroke-width="0.18">85<tspan font-size="5.6" dy="-0.4">°</tspan><tspan dy="0.4"> E</tspan></text>
<text x="86.48" y="501.80" font-size="7.3" letter-spacing="-0.2" font-weight="bold" text-anchor="middle" fill="#111" stroke="#111" stroke-width="0.18">95<tspan font-size="5.6" dy="-0.4">°</tspan><tspan dy="0.4"> E</tspan></text>
<text x="114.27" y="501.80" font-size="7.3" letter-spacing="-0.2" font-weight="bold" text-anchor="middle" fill="#111" stroke="#111" stroke-width="0.18">105<tspan font-size="5.6" dy="-0.4">°</tspan><tspan dy="0.4"> E</tspan></text>
<text x="139.33" y="501.80" font-size="7.3" letter-spacing="-0.2" font-weight="bold" text-anchor="middle" fill="#111" stroke="#111" stroke-width="0.18">75<tspan font-size="5.6" dy="-0.4">°</tspan><tspan dy="0.4"> E</tspan></text>
<text x="167.56" y="501.80" font-size="7.3" letter-spacing="-0.2" font-weight="bold" text-anchor="middle" fill="#111" stroke="#111" stroke-width="0.18">85<tspan font-size="5.6" dy="-0.4">°</tspan><tspan dy="0.4"> E</tspan></text>
<text x="195.79" y="501.80" font-size="7.3" letter-spacing="-0.2" font-weight="bold" text-anchor="middle" fill="#111" stroke="#111" stroke-width="0.18">95<tspan font-size="5.6" dy="-0.4">°</tspan><tspan dy="0.4"> E</tspan></text>
<text x="224.02" y="501.80" font-size="7.3" letter-spacing="-0.2" font-weight="bold" text-anchor="middle" fill="#111" stroke="#111" stroke-width="0.18">105<tspan font-size="5.6" dy="-0.4">°</tspan><tspan dy="0.4"> E</tspan></text>
<text x="248.00" y="501.80" font-size="7.3" letter-spacing="-0.2" font-weight="bold" text-anchor="middle" fill="#111" stroke="#111" stroke-width="0.18">75<tspan font-size="5.6" dy="-0.4">°</tspan><tspan dy="0.4"> E</tspan></text>
<text x="276.12" y="501.80" font-size="7.3" letter-spacing="-0.2" font-weight="bold" text-anchor="middle" fill="#111" stroke="#111" stroke-width="0.18">85<tspan font-size="5.6" dy="-0.4">°</tspan><tspan dy="0.4"> E</tspan></text>
<text x="304.24" y="501.80" font-size="7.3" letter-spacing="-0.2" font-weight="bold" text-anchor="middle" fill="#111" stroke="#111" stroke-width="0.18">95<tspan font-size="5.6" dy="-0.4">°</tspan><tspan dy="0.4"> E</tspan></text>
<text x="332.36" y="501.80" font-size="7.3" letter-spacing="-0.2" font-weight="bold" text-anchor="middle" fill="#111" stroke="#111" stroke-width="0.18">105<tspan font-size="5.6" dy="-0.4">°</tspan><tspan dy="0.4"> E</tspan></text>
<text x="355.70" y="501.80" font-size="7.3" letter-spacing="-0.2" font-weight="bold" text-anchor="middle" fill="#111" stroke="#111" stroke-width="0.18">75<tspan font-size="5.6" dy="-0.4">°</tspan><tspan dy="0.4"> E</tspan></text>
<text x="383.85" y="501.80" font-size="7.3" letter-spacing="-0.2" font-weight="bold" text-anchor="middle" fill="#111" stroke="#111" stroke-width="0.18">85<tspan font-size="5.6" dy="-0.4">°</tspan><tspan dy="0.4"> E</tspan></text>
<text x="412.00" y="501.80" font-size="7.3" letter-spacing="-0.2" font-weight="bold" text-anchor="middle" fill="#111" stroke="#111" stroke-width="0.18">95<tspan font-size="5.6" dy="-0.4">°</tspan><tspan dy="0.4"> E</tspan></text>
<text x="440.15" y="501.80" font-size="7.3" letter-spacing="-0.2" font-weight="bold" text-anchor="middle" fill="#111" stroke="#111" stroke-width="0.18">105<tspan font-size="5.6" dy="-0.4">°</tspan><tspan dy="0.4"> E</tspan></text>
<rect x="139.90" y="511.5" width="19.09" height="9.0" fill="#0a73ff"/>
<rect x="158.39" y="511.5" width="19.09" height="9.0" fill="#0096ff"/>
<rect x="176.88" y="511.5" width="19.09" height="9.0" fill="#00abff"/>
<rect x="195.37" y="511.5" width="19.09" height="9.0" fill="#4cbcff"/>
<rect x="213.86" y="511.5" width="19.09" height="9.0" fill="#7cd3ff"/>
<rect x="232.35" y="511.5" width="19.09" height="9.0" fill="#a0e8ff"/>
<rect x="250.84" y="511.5" width="19.09" height="9.0" fill="#c6f5ff"/>
<rect x="269.33" y="511.5" width="19.09" height="9.0" fill="#fff5a5"/>
<rect x="287.82" y="511.5" width="19.09" height="9.0" fill="#ffe070"/>
<rect x="306.31" y="511.5" width="19.09" height="9.0" fill="#ffbe28"/>
<rect x="324.80" y="511.5" width="19.09" height="9.0" fill="#ffa000"/>
<rect x="343.29" y="511.5" width="18.49" height="9.0" fill="#ff5a00"/>
<text x="158.39" y="531.0" font-size="8.4" text-anchor="middle" fill="#222">-0.3</text>
<text x="176.88" y="531.0" font-size="8.4" text-anchor="middle" fill="#222">-0.25</text>
<text x="195.37" y="531.0" font-size="8.4" text-anchor="middle" fill="#222">-0.2</text>
<text x="213.86" y="531.0" font-size="8.4" text-anchor="middle" fill="#222">-0.15</text>
<text x="232.35" y="531.0" font-size="8.4" text-anchor="middle" fill="#222">-0.1</text>
<text x="250.84" y="531.0" font-size="8.4" text-anchor="middle" fill="#222">-0.05</text>
<text x="269.33" y="531.0" font-size="8.4" text-anchor="middle" fill="#222">0</text>
<text x="288.92" y="531.0" font-size="8.4" text-anchor="middle" fill="#222">0.05</text>
<text x="307.41" y="531.0" font-size="8.4" text-anchor="middle" fill="#222">0.1</text>
<text x="325.90" y="531.0" font-size="8.4" text-anchor="middle" fill="#222">0.15</text>
<text x="344.39" y="531.0" font-size="8.4" text-anchor="middle" fill="#222">0.2</text>
<text x="215.9" y="544.4" font-size="9.5" fill="#222">Wind speed (m/s)</text>
</svg></body></html>
